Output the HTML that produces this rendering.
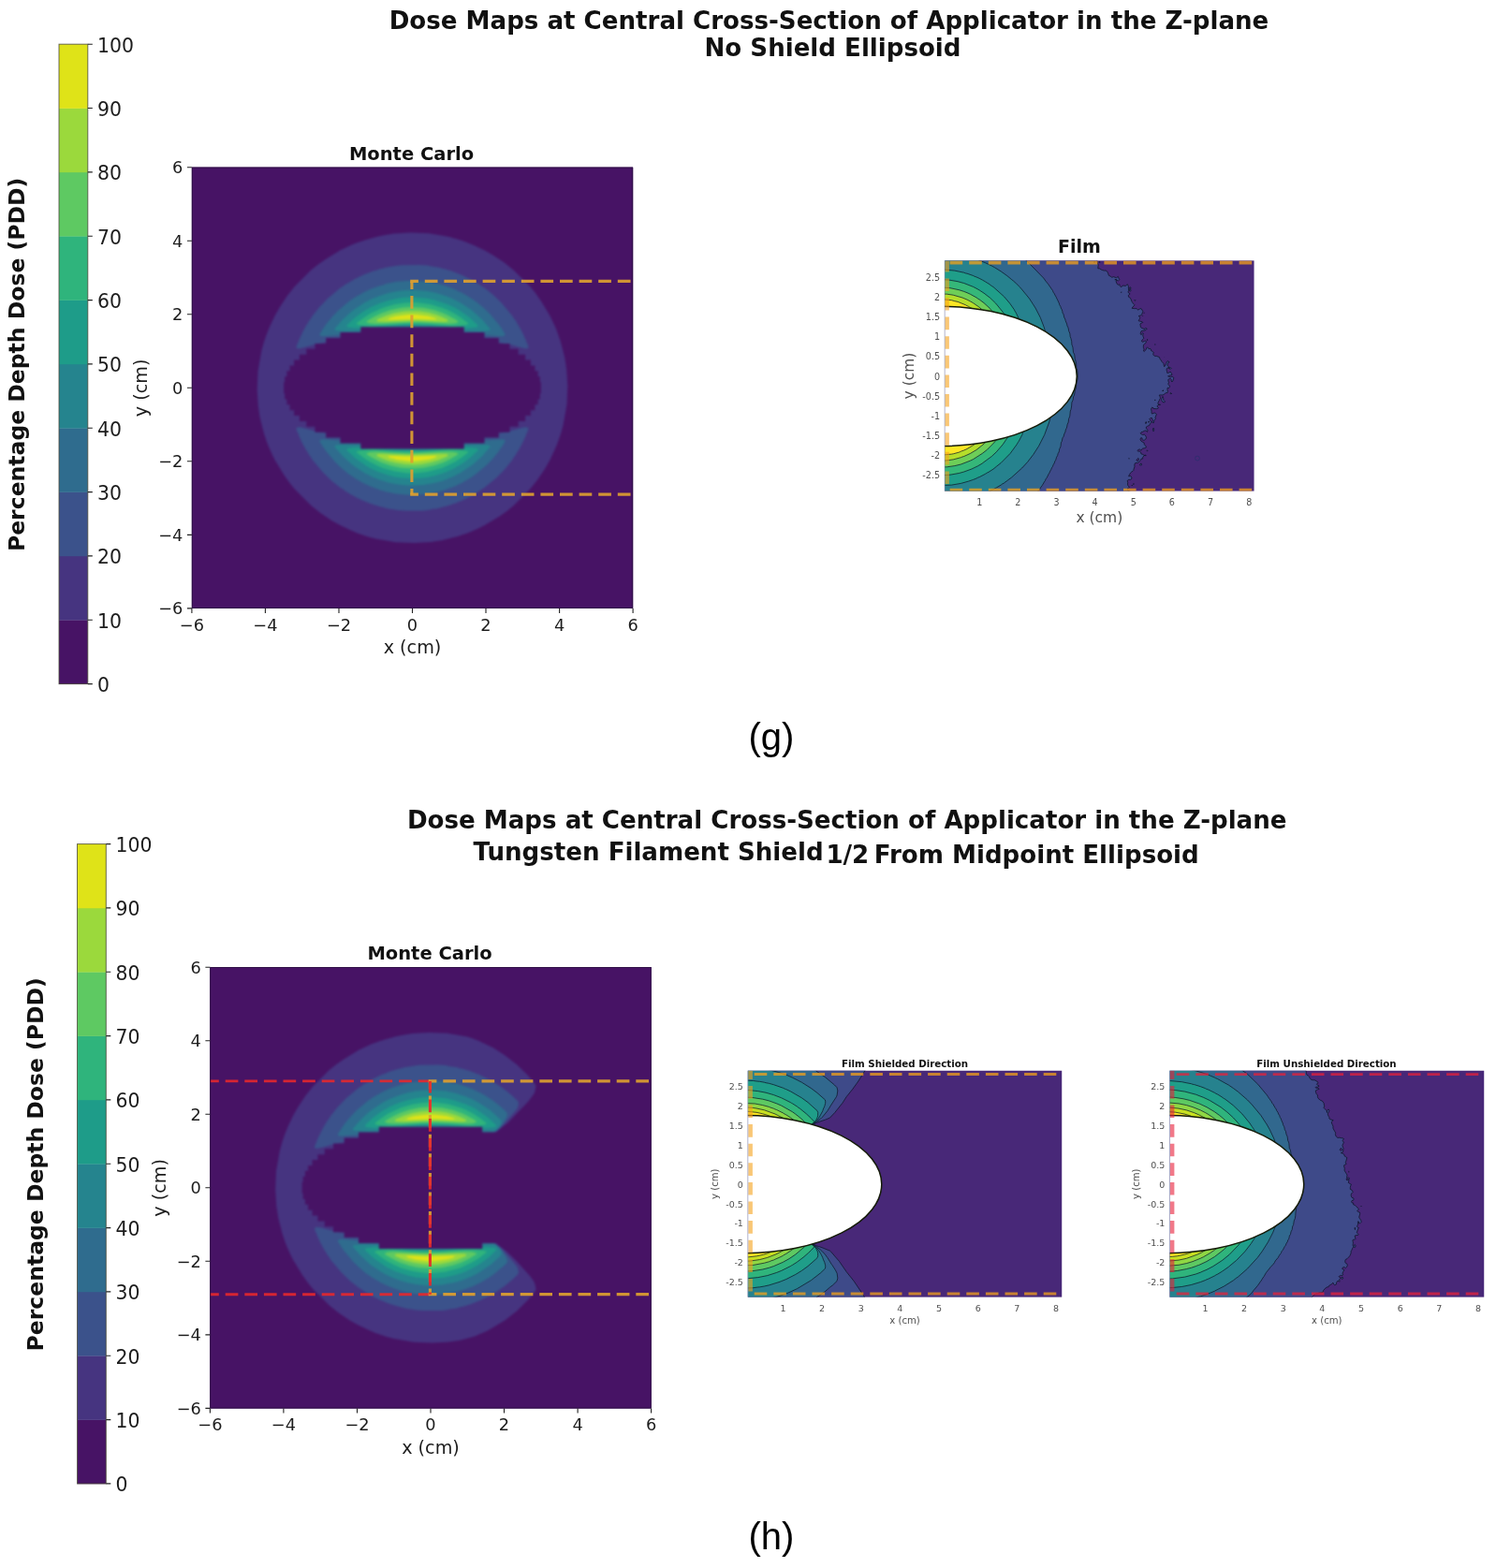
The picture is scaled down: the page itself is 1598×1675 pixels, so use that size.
<!DOCTYPE html><html><head><meta charset="utf-8"><title>Dose Maps</title><style>html,body{margin:0;padding:0;background:#fff;overflow:hidden}svg{display:block}</style></head><body><svg width="1598" height="1675" viewBox="0 0 1598 1675" font-family="'DejaVu Sans','Liberation Sans',sans-serif" fill="#1c1c1c">
<defs><filter id="blur" color-interpolation-filters="sRGB" x="-5%" y="-5%" width="110%" height="110%"><feGaussianBlur stdDeviation="1.0"/></filter><filter id="blur2" color-interpolation-filters="sRGB" x="-5%" y="-5%" width="110%" height="110%"><feGaussianBlur stdDeviation="0.45"/></filter></defs>
<rect width="1598" height="1675" fill="#fff"/>
<g font-weight="bold" font-size="26.1" text-anchor="middle" fill="#111"><text x="885.5" y="31.3">Dose Maps at Central Cross-Section of Applicator in the Z-plane</text><text x="889.5" y="60.3">No Shield Ellipsoid</text></g>
<rect x="63.00" y="662.26" width="30.80" height="68.64" fill="#471365"/>
<rect x="63.00" y="593.92" width="30.80" height="68.64" fill="#463480"/>
<rect x="63.00" y="525.58" width="30.80" height="68.64" fill="#3b528b"/>
<rect x="63.00" y="457.24" width="30.80" height="68.64" fill="#2f6c8e"/>
<rect x="63.00" y="388.90" width="30.80" height="68.64" fill="#25848e"/>
<rect x="63.00" y="320.56" width="30.80" height="68.64" fill="#1e9c89"/>
<rect x="63.00" y="252.22" width="30.80" height="68.64" fill="#2fb47c"/>
<rect x="63.00" y="183.88" width="30.80" height="68.64" fill="#5ec962"/>
<rect x="63.00" y="115.54" width="30.80" height="68.64" fill="#9bd93c"/>
<rect x="63.00" y="47.20" width="30.80" height="68.64" fill="#dfe318"/>
<rect x="63.00" y="47.20" width="30.80" height="683.40" fill="none" stroke="#4a4a3a" stroke-width="1" opacity="0.8"/>
<text x="104.0" y="738.9" font-size="20.4">0</text>
<text x="104.0" y="670.6" font-size="20.4">10</text>
<text x="104.0" y="602.2" font-size="20.4">20</text>
<text x="104.0" y="533.9" font-size="20.4">30</text>
<text x="104.0" y="465.5" font-size="20.4">40</text>
<text x="104.0" y="397.2" font-size="20.4">50</text>
<text x="104.0" y="328.9" font-size="20.4">60</text>
<text x="104.0" y="260.5" font-size="20.4">70</text>
<text x="104.0" y="192.2" font-size="20.4">80</text>
<text x="104.0" y="123.8" font-size="20.4">90</text>
<text x="104.0" y="55.5" font-size="20.4">100</text>
<path d="M93.8,730.6h5M93.8,662.3h5M93.8,593.9h5M93.8,525.6h5M93.8,457.2h5M93.8,388.9h5M93.8,320.6h5M93.8,252.2h5M93.8,183.9h5M93.8,115.5h5M93.8,47.2h5" stroke="#222" stroke-width="1.1" fill="none"/>
<text transform="translate(26.3,389.4) rotate(-90)" font-size="23.5" font-weight="bold" text-anchor="middle" fill="#111">Percentage Depth Dose (PDD)</text>
<clipPath id="cpa"><rect x="204.88" y="178.68" width="471.24" height="471.24"/></clipPath>
<rect x="204.88" y="178.68" width="471.24" height="471.24" fill="#471365"/>
<g clip-path="url(#cpa)"><g filter="url(#blur)">
<rect x="192.9" y="166.7" width="495.2" height="495.2" fill="#471365"/>
<path d="M422.6,579.2 442.5,580.1 460.1,579 471.9,577.2 477.8,575.8 489.6,572.7 499.4,569.4 504.2,567.5 513.1,563.4 515.1,562.3 517.1,561.5 519,560.3 533.3,551.7 541.5,545.9 548.8,540 566.4,522.3 574.2,512.5 582.1,500.7 587.8,490.7 588.5,488.9 592.3,481.1 595.6,473.2 597.7,467.3 599.6,461.4 601.7,453.6 605.5,432 606.3,412.3 605.2,394.7 603.4,382.9 602,377 598.9,365.2 595.6,355.4 593.7,350.6 589.6,341.7 588.5,339.7 587.7,337.7 586.5,335.8 577.9,321.5 572.1,313.3 566.2,306 548.5,288.4 538.7,280.6 526.9,272.7 516.9,267 515.1,266.3 507.3,262.5 499.4,259.2 493.5,257.1 487.6,255.2 479.8,253.1 458.2,249.3 438.5,248.5 420.9,249.6 409.1,251.4 403.2,252.8 391.4,255.9 381.6,259.2 376.8,261.1 367.9,265.2 365.9,266.3 363.9,267.1 362,268.3 347.7,276.9 339.5,282.7 332.2,288.6 314.6,306.3 306.8,316.1 298.9,327.9 293.2,337.9 292.5,339.7 288.7,347.5 285.4,355.4 283.3,361.3 281.4,367.2 279.3,375 275.5,396.6 274.7,416.3 275.8,433.9 277.6,445.7 279,451.6 282.1,463.4 285.4,473.2 287.3,478 291.4,486.9 292.5,488.9 293.3,490.9 294.5,492.8 303.1,507.1 308.9,515.3 314.8,522.6 332.5,540.2 342.3,548 354.1,555.9 364.1,561.6 365.9,562.3 373.7,566.1 381.6,569.4 387.5,571.5 393.4,573.4 401.2,575.5 422.6,579.2ZM546.5,450.2 545.6,449.6 548,441.8 550.6,428 551.4,418.2 551.3,408.4 549.7,394.7 548,386.8 545.6,379 546.5,378.4 548.5,378.5 560.8,386.8 570.1,395.1 572.6,398.6 574.7,402.5 576.2,406.4 577.1,410.4 577.4,414.3 577.1,418.2 575.5,424.1 572.1,430.8 569.7,433.9 560.3,442.1 558.2,443.8 548.5,450.1 546.5,450.2ZM332.5,450.1 320.2,441.8 310.9,433.5 308.4,430 306.3,426.1 304.8,422.2 303.9,418.2 303.6,414.3 303.9,410.4 305.5,404.5 308.9,397.8 311.3,394.7 320.7,386.5 322.8,384.8 332.5,378.5 334.5,378.4 335.4,379 333,386.8 330.4,400.6 329.6,410.4 329.7,420.2 331.3,433.9 333,441.8 335.4,449.6 334.5,450.2 332.5,450.1Z" fill="#463480" fill-rule="evenodd"/>
<path d="M419.3,543.9 424.8,545 432.6,545.6 452.3,545.4 458.2,544.7 462.1,543.8 466,543.4 470,542.5 471.9,541.8 475.8,541.1 479.8,539.7 481.7,539.3 484.8,538 487.6,537.2 489.7,536 491.6,535.5 497.4,532.9 501.4,530.9 506.1,528.2 507.3,527.7 509.2,526.2 511.2,525.3 515.2,522.3 517.1,521.3 530.8,509.9 539.7,500.7 547.5,490.9 548.5,488.9 551.5,485 552.4,483 553.9,481.1 556.3,476.4 557.1,475.2 561.7,465.4 562.3,463.4 563.4,461.4 564.2,458.6 564.7,457.5 564.2,456.9 562.2,456.2 558.3,456.8 544.6,460.6 517.1,466.4 515.1,466.5 512.8,467.3 510.5,467.3 517.1,457.3 523.2,443.8 526.1,433.9 527.3,428 528.3,416.3 527.8,404.5 526.1,394.7 523,384.1 518.1,373.1 512,363.2 510.5,361.3 512.8,361.3 515.1,362.1 519,362.5 540.6,367.4 544.6,368 558.3,371.8 562.2,372.4 564.2,371.7 564.7,371.1 563.4,367.2 562.2,365.1 561.7,363.2 559.1,357.4 557.1,353.4 554.4,348.7 553.9,347.5 552.4,345.6 551.5,343.6 548.5,339.6 547.5,337.7 536.1,324 526.9,315.1 517.1,307.3 515.1,306.3 511.2,303.3 509.2,302.4 507.3,300.9 502.6,298.5 501.4,297.7 491.6,293.1 489.6,292.5 487.6,291.4 484.8,290.6 481.7,289.3 477.8,288.3 475.8,287.5 471.5,286.7 470,286.1 466,285.2 461.7,284.7 456.2,283.6 448.4,283 428.7,283.2 422.8,283.9 418.9,284.8 415,285.2 411,286.1 409.1,286.8 405.2,287.5 401.2,288.9 399.3,289.3 396.2,290.6 393.4,291.4 391.3,292.6 389.4,293.1 383.6,295.7 379.6,297.7 374.9,300.4 373.7,300.9 371.8,302.4 369.8,303.3 365.8,306.3 363.9,307.3 350.2,318.7 341.3,327.9 333.5,337.7 332.5,339.7 329.5,343.6 328.6,345.6 327.1,347.5 324.7,352.2 323.9,353.4 319.3,363.2 318.7,365.2 317.6,367.2 316.8,370 316.3,371.1 316.8,371.7 318.8,372.4 322.7,371.8 336.4,368 363.9,362.2 365.9,362.1 368.2,361.3 370.5,361.3 363.9,371.3 357.8,384.8 354.9,394.7 353.7,400.6 352.7,412.3 353.2,424.1 354.9,433.9 358,444.5 362.9,455.5 369,465.4 370.5,467.3 368.2,467.3 365.9,466.5 362,466.1 340.4,461.2 336.4,460.6 322.7,456.8 318.8,456.2 316.8,456.9 316.3,457.5 317.6,461.4 318.8,463.5 319.3,465.4 321.9,471.2 323.9,475.2 326.6,479.9 327.1,481.1 328.6,483 329.5,485 332.5,489 333.5,490.9 344.9,504.6 354.1,513.5 363.9,521.3 365.9,522.3 369.8,525.3 371.8,526.2 373.7,527.7 378.4,530.1 379.6,530.9 389.4,535.5 391.4,536.1 393.4,537.2 396.2,538 399.3,539.3 403.2,540.3 405.2,541.1 409.5,541.9 411,542.5 415,543.4 419.3,543.9Z" fill="#3b528b" fill-rule="evenodd"/>
<path d="M430.9,528.2 436.6,528.7 446.4,528.6 458.2,527.5 468,525.5 471.9,524.2 475.8,523.2 477.9,522.3 481.7,521.1 485.7,519.5 493.5,515.8 495.6,514.4 497.4,513.6 503.3,510 505.3,508.5 507.3,507.3 519.8,496.8 525.5,490.9 532.1,483 534.7,479 537.4,475.2 539.8,471.2 538.7,469.8 536.7,469.3 505.3,471.6 497.4,472.5 493.5,472.6 491.6,473.2 487.6,473.6 483.7,473.6 481.7,473.8 479.8,474.3 479,475.2 468,475.5 464.1,476 462,477.1 420.9,477.3 418.9,477.1 416.9,476 413,475.5 402,475.2 401.2,474.3 399.3,473.8 395.3,473.5 391.4,473.5 389.4,473.2 387.5,472.6 377.7,471.9 346.3,469.3 344.3,469.3 342.3,469.8 341.2,471.2 344.8,477.1 346.3,479.1 347.5,481.1 358,493.6 363.9,499.3 371.8,505.9 375.8,508.5 379.6,511.2 383.6,513.6 385.5,514.5 387.5,515.8 393.4,518.4 395.3,519.5 397.7,520.3 401.2,521.8 403.2,522.3 405.2,523.2 413,525.5 417.3,526.2 422.8,527.5 430.9,528.2ZM341.2,357.4 342.3,358.8 344.3,359.3 375.7,357 383.6,356.1 387.5,356 389.4,355.4 393.4,355 397.3,355 399.3,354.8 401.2,354.3 402,353.4 413,353.1 416.9,352.6 419,351.5 460.1,351.3 462.1,351.5 464.1,352.6 468,353.1 479,353.4 479.8,354.3 481.7,354.8 485.7,355.1 489.6,355.1 491.6,355.4 493.5,356 503.3,356.7 534.7,359.3 536.7,359.3 538.7,358.8 539.8,357.4 536.2,351.5 534.7,349.5 533.5,347.5 523,335 517.1,329.3 509.2,322.7 505.2,320.1 501.4,317.4 497.4,315 495.5,314.1 493.5,312.8 487.6,310.2 485.7,309.1 483.3,308.3 479.8,306.8 477.8,306.3 475.8,305.4 468,303.1 463.7,302.4 458.2,301.1 444.4,299.9 434.6,300 422.8,301.1 413,303.1 409.1,304.4 405.2,305.4 403.1,306.3 399.3,307.5 395.3,309.1 387.5,312.8 385.4,314.2 383.6,315 377.7,318.6 375.7,320.1 373.7,321.3 361.2,331.8 355.5,337.7 348.9,345.6 346.3,349.6 343.6,353.4 341.2,357.4Z" fill="#2f6c8e" fill-rule="evenodd"/>
<path d="M434.8,518.4 440.5,518.6 452.3,518 466,515.5 473.9,513.2 483.7,509.3 491.6,505.3 505.3,496.1 515.3,486.9 523.8,477.1 523,475.9 520.7,475.2 507.3,474.7 487.6,475.7 466,478.4 440.5,479.6 422.8,479 387.5,475.2 369.8,474.7 360,475.2 358,475.9 357.2,477.1 365.9,487.1 376.6,496.8 389.4,505.3 397.3,509.3 403.2,511.8 415,515.5 424.8,517.5 434.8,518.4ZM360.3,353.4 373.7,353.9 393.4,352.9 415,350.2 440.5,349 458.2,349.6 493.5,353.4 511.2,353.9 521,353.4 523,352.7 523.8,351.5 515.1,341.5 504.4,331.8 491.6,323.3 483.7,319.3 477.8,316.8 466,313.1 456.2,311.1 444.4,310.1 432.6,310.3 424.8,311.1 415,313.1 407.1,315.4 397.3,319.3 389.4,323.3 375.7,332.5 365.7,341.7 357.2,351.5 358,352.7 360.3,353.4Z" fill="#25848e" fill-rule="evenodd"/>
<path d="M430.6,510.5 438.5,511.1 448.4,510.8 456.2,509.9 466,507.7 473.9,505.2 477.8,503.7 485.7,500 487.7,498.7 489.6,497.8 495.5,494 503.3,488 510.6,481.1 510,479.1 501.4,478.1 487.6,477.8 452.3,480.9 422.8,480.6 393.4,477.8 379.6,478.1 371,479.1 370.4,481.1 379.6,489.6 391.4,497.8 395.3,500 403.2,503.7 416.9,508.2 424.8,509.9 430.6,510.5ZM371,349.5 379.6,350.5 393.4,350.8 428.7,347.7 458.2,348 487.6,350.8 501.4,350.5 510,349.5 510.6,347.5 501.4,339 489.6,330.8 485.7,328.6 477.8,324.9 464.1,320.4 456.2,318.7 442.5,317.5 432.6,317.8 424.8,318.7 415,320.9 407.1,323.4 403.2,324.9 395.3,328.6 393.3,329.9 391.4,330.8 385.5,334.6 377.7,340.6 370.4,347.5 371,349.5Z" fill="#1e9c89" fill-rule="evenodd"/>
<path d="M428.6,504.6 436.6,505.4 446.4,505.3 456.2,504.1 471.9,499.9 485.7,493.5 493.5,488.4 500.4,483 499.4,482.1 497.4,481.4 485.7,480.2 479.8,480.3 448.4,482.6 418.9,481.9 399.3,480.2 395.3,480.2 383.6,481.4 381.6,482.1 380.6,483 389.4,489.8 395.3,493.5 403.2,497.5 409.1,499.9 420.9,503.3 428.6,504.6ZM386,347.5 395.3,348.4 401.2,348.3 432.6,346 462.1,346.7 481.7,348.4 485.7,348.4 497.4,347.2 499.4,346.5 500.4,345.6 491.6,338.8 485.7,335.1 477.8,331.1 471.9,328.7 460.1,325.3 446.4,323.3 440.5,323.1 430.7,323.7 420.9,325.3 409.1,328.7 395.3,335.1 387.5,340.2 380.6,345.6 381.6,346.5 383.6,347.2 386,347.5Z" fill="#2fb47c" fill-rule="evenodd"/>
<path d="M423.1,498.7 428.7,499.8 442.5,500.5 452.3,499.8 464.1,497.3 473.9,493.9 481.7,490.1 489.9,485 487.6,483.6 483.7,482.8 475.8,482.5 434.6,484.2 401.2,482.5 395.3,483.1 393.4,483.6 391.1,485 395.3,487.8 403.2,492.1 407.1,493.9 416.9,497.3 423.1,498.7ZM396,345.6 401.2,346.1 407.1,346 446.4,344.4 479.8,346.1 485.7,345.5 487.6,345 489.9,343.6 485.7,340.8 477.8,336.5 473.9,334.7 464.1,331.3 452.3,328.8 438.5,328.1 428.7,328.8 416.9,331.3 407.1,334.7 399.3,338.5 391.1,343.6 393.4,345 396,345.6Z" fill="#5ec962" fill-rule="evenodd"/>
<path d="M424.5,494.8 432.6,496.1 442.5,496.4 450.3,495.9 460.1,494.1 468,491.7 477.8,487.5 478.8,486.9 477.7,485 470,484.7 436.6,485.8 407.1,484.7 403.2,485.1 402.2,486.9 409.1,490.2 415,492.4 422.8,494.5 424.5,494.8ZM403.3,343.6 411,343.9 444.4,342.8 473.9,343.9 477.8,343.5 478.8,341.7 471.9,338.4 466,336.2 458.2,334.1 448.4,332.5 438.5,332.2 430.7,332.7 420.9,334.5 413,336.9 403.2,341.1 402.2,341.7 403.3,343.6Z" fill="#9bd93c" fill-rule="evenodd"/>
<path d="M423.2,490.9 436.6,492.7 444.4,492.7 458.2,490.8 464.8,488.9 466,487.6 468,487.1 470,486.9 461.8,486.9 434.6,487.6 420.9,487.1 413,487.1 415,487.6 416.2,488.9 420.9,490.1 423.2,490.9ZM410.9,341.7 419.2,341.7 446.4,341 460.1,341.5 468,341.5 466,341 464.8,339.7 460.1,338.5 457.8,337.7 444.4,335.9 436.6,335.9 422.8,337.8 416.2,339.7 415,341 413,341.5 410.9,341.7Z" fill="#dfe318" fill-rule="evenodd"/>
<path d="M385.3,472.9H495.7V479.4H385.3ZM363.5,467.0H517.5V473.5H363.5ZM348.2,461.1H532.8V467.6H348.2ZM336.5,455.2H544.5V461.7H336.5ZM327.3,449.3H553.7V455.8H327.3ZM319.9,443.5H561.1V449.9H319.9ZM314.1,437.6H566.9V444.1H314.1ZM309.6,431.7H571.4V438.2H309.6ZM306.4,425.8H574.6V432.3H306.4ZM304.2,419.9H576.8V426.4H304.2ZM303.2,414.0H577.8V420.5H303.2ZM303.2,408.1H577.8V414.6H303.2ZM304.2,402.2H576.8V408.7H304.2ZM306.4,396.3H574.6V402.8H306.4ZM309.6,390.4H571.4V396.9H309.6ZM314.1,384.5H566.9V391.0H314.1ZM319.9,378.7H561.1V385.1H319.9ZM327.3,372.8H553.7V379.3H327.3ZM336.5,366.9H544.5V373.4H336.5ZM348.2,361.0H532.8V367.5H348.2ZM363.5,355.1H517.5V361.6H363.5ZM385.3,349.2H495.7V355.7H385.3Z" fill="#471365"/>
</g>
<path d="M438.2,300.4H676.1M438.2,528.2H676.1" stroke="#dda030" stroke-width="3.3" stroke-dasharray="13.7 6.9" stroke-dashoffset="5" fill="none" opacity="0.92"/>
<path d="M439.9,300.4V528.2" stroke="#dda030" stroke-width="3.1" stroke-dasharray="13.7 6.9" stroke-dashoffset="5" fill="none" opacity="0.92"/>
</g>
<rect x="205.28" y="179.08" width="470.44" height="470.44" fill="none" stroke="#2a1040" stroke-width="0.8"/>
<text x="204.9" y="673.7" font-size="17.8" text-anchor="middle">−6</text>
<text x="195.4" y="656.4" font-size="17.8" text-anchor="end">−6</text>
<text x="283.4" y="673.7" font-size="17.8" text-anchor="middle">−4</text>
<text x="195.4" y="577.9" font-size="17.8" text-anchor="end">−4</text>
<text x="362.0" y="673.7" font-size="17.8" text-anchor="middle">−2</text>
<text x="195.4" y="499.3" font-size="17.8" text-anchor="end">−2</text>
<text x="440.5" y="673.7" font-size="17.8" text-anchor="middle">0</text>
<text x="195.4" y="420.8" font-size="17.8" text-anchor="end">0</text>
<text x="519.0" y="673.7" font-size="17.8" text-anchor="middle">2</text>
<text x="195.4" y="342.3" font-size="17.8" text-anchor="end">2</text>
<text x="597.6" y="673.7" font-size="17.8" text-anchor="middle">4</text>
<text x="195.4" y="263.7" font-size="17.8" text-anchor="end">4</text>
<text x="676.1" y="673.7" font-size="17.8" text-anchor="middle">6</text>
<text x="195.4" y="185.2" font-size="17.8" text-anchor="end">6</text>
<path d="M204.9,649.9v5M204.9,649.9h-5M283.4,649.9v5M204.9,571.4h-5M362.0,649.9v5M204.9,492.8h-5M440.5,649.9v5M204.9,414.3h-5M519.0,649.9v5M204.9,335.8h-5M597.6,649.9v5M204.9,257.2h-5M676.1,649.9v5M204.9,178.7h-5" stroke="#222" stroke-width="1.1" fill="none"/>
<text x="440.5" y="698.3" font-size="19.2" text-anchor="middle">x (cm)</text>
<text transform="translate(157.4,414.3) rotate(-90)" font-size="19.2" text-anchor="middle">y (cm)</text>
<text x="439.5" y="170.7" font-size="19.5" font-weight="bold" text-anchor="middle" fill="#111">Monte Carlo</text>
<clipPath id="cpb"><rect x="1009.12" y="278.38" width="330.43" height="246.19"/></clipPath>
<rect x="1009.12" y="278.38" width="330.43" height="246.19" fill="#482878"/>
<g clip-path="url(#cpb)"><g filter="url(#blur2)">
<path d="M1005,532.2 1203.7,532.2 1204.2,531.3 1207.5,531.4 1209.1,530.5 1207.9,528.8 1207.6,527.1 1207.8,525.4 1205.8,524.6 1204.5,523.7 1204.2,522 1206.5,520.3 1204.7,518.6 1204.5,517 1204.7,515.3 1204,513.6 1205.8,512.3 1207.5,512.5 1208.4,511.9 1209,510.2 1207.5,508.3 1205.8,508.9 1205.6,508.5 1207.6,505.1 1209.1,503.7 1210,503.4 1210.8,502.6 1210.9,501.7 1212,498.3 1211.8,496.7 1212.4,494.8 1214,494.4 1215.7,494.3 1217.3,492.9 1218.4,491.6 1219,490 1220.6,490.1 1220.8,488.2 1222.3,486.5 1224.3,486.5 1223.9,486.2 1222.3,486.4 1220.6,485.4 1218.9,484.8 1218.6,483.1 1217.3,482.2 1215.7,482.1 1214.9,481.4 1215.7,480.5 1217.3,479.9 1219,481.2 1219.8,479.7 1220.6,479.1 1223.9,478.3 1224.4,478 1223.9,476.3 1222.1,474.7 1222.2,473 1220.6,472.3 1219,471.3 1218,469.6 1218.4,467.9 1219,467.7 1220,467.9 1220.2,469.6 1220.6,470.2 1222.3,470.2 1223.9,469 1224.5,467.9 1224.1,466.2 1222.8,464.5 1222.3,464.2 1220.6,464.5 1219,463.6 1218,462.8 1219,461.7 1220.6,461.3 1222.3,460.3 1223.9,459.9 1225.6,461.3 1225.9,459.4 1224.4,457.7 1224.4,456 1225.6,455.3 1227.7,454.4 1228.4,452.7 1228.9,452.4 1230,451 1227.8,447.6 1228.9,446.5 1230.5,446.5 1231.5,449.3 1230.8,451 1232.1,451.9 1232.7,451 1232.7,449.3 1234.3,447.6 1234,445.9 1235.4,442.5 1233.8,441.1 1232.1,441.4 1230.5,442.1 1230,440.8 1230.1,439.1 1229.6,437.4 1230,435.7 1230.5,435.3 1232,435.7 1232.1,436.5 1235.4,436.7 1237.1,436.2 1237.4,435.7 1235.9,434 1237.1,432.5 1239.5,432.4 1238.7,432.3 1237.1,431.6 1236.7,430.7 1237.1,430.4 1237.6,429 1238.5,427.3 1238.7,426.5 1239.4,425.6 1239.2,423.9 1238.7,422.9 1238.1,422.2 1238.7,422 1242,422 1243.7,421.1 1245.3,419.6 1247,419.7 1247.4,418.8 1246.9,415.4 1247,414.3 1248.6,414.5 1249.3,413.7 1249.4,412.1 1248.6,411.1 1247.7,410.4 1248.5,408.7 1247.9,407 1247.9,405.3 1248.6,404.9 1250.3,404.4 1251.2,405.3 1251.1,407 1251.9,408 1252.8,407 1253.5,404.9 1253.7,403.6 1253.5,403.1 1251.9,402.3 1250.3,403 1248.6,402.5 1247.6,401.9 1248.6,401.4 1251.9,400.5 1251.9,400 1251.2,398.5 1250.3,397.2 1247,398.6 1246.8,398.5 1246.6,396.8 1246,395.1 1246.5,393.4 1247,392.8 1250.3,394.2 1251.1,393.4 1250.3,392.6 1248.6,393.1 1248.3,391.7 1246.8,390.1 1247.5,388.4 1248.6,386.9 1249.1,386.7 1247,385.7 1246.2,386.7 1245.8,388.4 1243.7,391.8 1243.1,390.1 1243,388.4 1241.3,386.7 1240.3,385 1239,383.3 1238.5,381.6 1235.4,380.4 1233.8,380.4 1232.7,379.9 1232.1,379.3 1231.7,378.2 1232.4,376.5 1230.5,375.1 1229.7,374.8 1229.4,373.1 1228.9,372.5 1227.2,372.8 1225.6,370.8 1225,371.4 1223.9,373.7 1222.3,375.5 1221.4,374.8 1222.1,373.1 1221.4,371.4 1221.3,369.8 1221.7,368.1 1223.9,366.4 1224.5,364.7 1223.9,364.2 1222.3,364.4 1222,364.7 1220.6,365.3 1219.5,364.7 1220,363 1220.6,362.6 1221.8,361.3 1221.1,359.6 1220.7,357.9 1221.4,356.2 1220.6,355.5 1219,357.7 1218.1,356.2 1219,353.8 1220.6,353.3 1223.9,352.6 1225.2,351.1 1223.9,350.6 1222.6,351.1 1222.3,351.9 1221.4,351.1 1219,350.1 1218.4,349.4 1217.9,346.1 1219,345.1 1220.8,344.4 1220.6,344.1 1219,343.4 1216.1,342.7 1217.3,340.7 1217.7,339.3 1217.3,338.5 1216.2,337.6 1219,336.7 1219.9,335.9 1220.1,334.2 1220.6,333.4 1220.8,332.5 1219,329.6 1217.3,330.1 1215.7,331.1 1215.1,330.8 1214,329.5 1212.4,329.7 1209.1,329.3 1209.1,329 1212,325.8 1210.3,324.1 1209.1,322.3 1207.5,318.4 1205.6,317.3 1205.2,315.6 1207.1,313.9 1204.9,312.2 1205.6,310.5 1205.3,305.5 1204.2,303.6 1202.5,305.4 1199.2,305 1197.6,306.9 1196.3,305.5 1195.9,303.8 1194.3,304.3 1193.6,303.8 1192.6,302.1 1192.2,300.4 1192.6,298.7 1194.3,300.2 1195.8,298.7 1194.3,295.4 1192.6,296.7 1189.4,295.7 1187.7,296.3 1186.1,295.1 1184.4,294.3 1183.6,291.9 1182.8,290.2 1181.1,289 1179.5,289.1 1177.3,288.5 1174.5,286.9 1172.8,286.8 1173.2,283.5 1171.8,280.1 1171.9,278.4 1171,276.7 1169.6,275.3 1168,276 1166.4,275 1166.3,273.3 1164.7,273.1 1163.8,271.6 1005,271.6 1005,532.2ZM1169.6,280.3 1168.2,280.1 1169.6,279.5 1170,280.1 1169.6,280.3ZM1191,298.8 1190.8,298.7 1191,298.5 1192.5,298.7 1191,298.8ZM1197.6,312.5 1197.3,312.2 1197.6,311.9 1198.2,312.2 1197.6,312.5ZM1205.8,490.1 1205.8,489.6 1206.3,489.9 1205.8,490.1ZM1214,491.9 1214,491.4 1215.7,489.4 1216.4,489.9 1216.3,491.6 1215.7,492.5 1214,491.9ZM1223.9,452.6 1223.6,451 1223.9,450.7 1224.9,451 1223.9,452.6ZM1227.2,451.4 1226.7,451 1227.2,449.9 1227.5,451 1227.2,451.4ZM1233.8,427.9 1233.6,427.3 1233.8,426.9 1234,427.3 1233.8,427.9ZM1242,418 1241.8,417.1 1242,416.9 1242.9,417.1 1242,418ZM1209,518.6 1209.1,518.9 1209.5,518.6 1209.1,518 1209,518.6ZM1210.2,517 1210.8,517.4 1211.5,517 1210.8,516.8 1210.2,517ZM1217.3,496.7 1219,497.2 1219.6,496.7 1219,494.9 1217.3,496.5 1217.3,496.7ZM1224.8,481.4 1225.6,481.8 1225.9,481.4 1225.6,481 1224.8,481.4ZM1231.4,459.4 1232.1,460.8 1232.7,459.4 1232.6,457.7 1232.1,457.1 1231.6,457.7 1231.4,459.4ZM1241.7,429 1242,429.6 1243.7,429.7 1244.6,429 1242.8,427.3 1242.7,425.6 1242,423.5 1242,423.9 1241,425.6 1240.5,427.3 1241.7,429ZM1250.1,420.5 1251.6,420.5 1250.3,419.6 1250.1,420.5ZM1243.6,381.6 1243.7,381.5 1243.6,381.6ZM1233.6,368.1 1233.8,368.4 1234.1,368.1 1233.8,367.6 1233.6,368.1ZM1225,363 1225.6,363.7 1225.9,363 1225.6,362.4 1225,363ZM1220.4,337.6 1220.6,337.8 1220.6,337.3 1220.4,337.6ZM1221.8,334.2 1222.3,334.2 1221.8,334.2ZM1211.8,320.7 1212.4,321.4 1212.9,320.7 1212.4,320.1 1211.8,320.7ZM1206.3,310.5 1207.5,311.2 1207.9,310.5 1207.6,308.8 1208,307.1 1207.5,306.9 1206.7,307.1 1206.8,308.8 1206.3,310.5ZM1174.1,280.1 1174.5,280.7 1175.1,280.1 1174.5,279.2 1174.1,280.1ZM1166.8,271.6 1168,272.7 1168.9,271.6 1166.8,271.6ZM1170.9,271.6 1171.2,271.8 1171.4,271.6 1170.9,271.6Z" fill="#3e4a89" fill-rule="evenodd"/>
<path d="M1005,532.2 1100.1,532.2 1108.7,524.9 1111,522 1112,520.2 1113.3,518.6 1115.3,515 1116.4,513.6 1117,511.9 1118.3,510.2 1120.2,506.3 1121,505.1 1121.9,503 1122.7,501.7 1123.5,499.7 1124.5,498.3 1125.2,496.3 1126.1,495 1126.8,492.8 1127.6,491.6 1128.7,488.2 1129.7,486.5 1130.1,484.6 1131,483.1 1131.5,481.4 1131.7,479.6 1132.6,478 1133.1,476.3 1133.4,472.9 1134.3,471.3 1135,467.8 1136.2,466.2 1136.7,463.9 1138,461.1 1138.3,459.1 1139.1,457.7 1139.7,456 1140,453.8 1141.2,451 1141.6,447.3 1142.3,445.9 1142.8,444.2 1143.3,439 1144,437.4 1144.6,434 1144.9,429.9 1146.1,427.3 1146.6,423.8 1147.5,422.2 1148.1,418.8 1148.2,417 1149.1,415.4 1149.7,412.1 1149.8,408.6 1150.6,407 1151.2,403.6 1151.1,398.5 1150.6,395.1 1149.8,393.4 1149.6,388.4 1148.8,385 1148.2,383.3 1147.9,379.9 1147.5,378.2 1146.5,376.5 1146,371.4 1145.6,369.8 1144.9,368.1 1144.7,364.7 1143.9,361.3 1143.2,359.6 1142.8,356.2 1141.6,353.4 1141.3,351.1 1140.7,349.4 1139.9,347.8 1139.6,346.1 1138.2,342.7 1137.8,341 1136.7,339 1136.1,335.9 1135,334.1 1134.8,332.5 1134.3,330.8 1133.3,329.1 1132.9,327.5 1131.7,325.5 1131.4,324.1 1129,319 1128.4,318.1 1128.2,317.3 1126.8,315 1126.4,313.9 1125.1,312.2 1124.5,310.5 1119.9,303.8 1116.9,300.1 1114.7,297 1097.2,279.1 1093.9,276.7 1090.6,273.8 1087.3,271.6 1005,271.6 1005,532.2Z" fill="#31688e" fill-rule="evenodd"/>
<path d="M1005,532.2 1036.3,532.2 1039.6,531.5 1046.2,529.3 1049.4,528.1 1051.4,527.1 1054.4,526 1057.7,524.5 1064.3,521 1069.2,518.1 1070.8,516.9 1072.5,516 1080.7,509.9 1097.8,493.3 1104.2,484.8 1109.7,476.3 1115.7,464.5 1121.9,446.9 1124,437.4 1125,430.7 1125.7,413.7 1124.8,403.6 1119.1,401.9 1120.7,388.4 1120.1,371.4 1116.3,352.8 1111.3,339.3 1103.8,325.3 1097,315.6 1089.8,307.1 1082.4,300 1069.2,289.9 1062.6,285.8 1059.3,284 1052.7,280.8 1039.6,275.8 1033,274 1021.5,271.8 1005,271.6 1005,532.2Z" fill="#26828e" fill-rule="evenodd"/>
<path d="M1005,517 1005,518.6 1016.5,518.1 1028,516 1039.6,512.4 1042.9,511.1 1044.5,510.2 1046.2,509.6 1052.7,506.2 1061,501.1 1064.4,498.3 1072.5,491.4 1079.1,484.4 1086.2,474.7 1088.3,471.3 1091.8,464.5 1092.4,462.8 1093.3,461.1 1095.2,456 1095.6,454.4 1096.3,452.7 1098.3,444.2 1099.9,429 1099.8,412.1 1099.4,408.7 1098.6,403.6 1097.2,402.7 1095.4,401.9 1096.8,393.4 1097.2,381.6 1096.5,369.8 1094.6,359.6 1093.9,357.6 1093.4,354.5 1092.2,351.1 1091.4,347.8 1090.6,346.1 1087.9,339.3 1083.4,330.8 1078.7,324.1 1069.2,313.5 1061,306.5 1059.3,305.5 1056,303 1049.4,299.1 1046.2,297.4 1041.1,295.3 1039.6,294.5 1033,292.2 1031.3,291.9 1029.7,291.2 1016.5,288.7 1005,287.9 1005,517Z" fill="#1f9e89" fill-rule="evenodd"/>
<path d="M1005,506.8 1005,507.8 1014.9,507.2 1024.8,505.4 1034.6,502.3 1041.2,499.5 1049.3,495 1059.3,487.5 1065.9,481.1 1075,469.6 1078.1,464.5 1083,454.4 1086.4,444.2 1088.3,435.7 1089.5,422.2 1088.4,407 1087.8,403.6 1084.9,401.9 1086.7,390.1 1087,383.3 1086.2,371.4 1084.7,363 1081.6,352.8 1075.2,339.3 1071.9,334.2 1063.7,324.1 1057.7,318.3 1046.2,310 1039.6,306.4 1029.7,302.5 1016.5,299.4 1005,298.7 1005,506.8Z" fill="#35b779" fill-rule="evenodd"/>
<path d="M1005,498.3 1005,499.1 1016.5,498.2 1026.4,496 1036.3,492.2 1044.5,487.7 1054.4,480.4 1063.1,471.3 1067,466.2 1073.7,454.4 1076.5,447.6 1079.7,435.7 1080.9,425.6 1080.7,413.7 1079.5,405.3 1079.1,403.6 1076.4,401.9 1078.4,390.1 1078.7,379.9 1077.9,371.4 1076.6,364.7 1073.4,354.5 1072,351.1 1067.5,342.7 1057.7,329.8 1051.1,323.7 1046.2,320 1036.3,314.2 1029.7,311.4 1018.2,308.3 1008.3,307.2 1005,307.1 1005,498.3Z" fill="#6ece58" fill-rule="evenodd"/>
<path d="M1005,491.6 1005,492.1 1009.9,492 1018.2,490.9 1026.4,488.7 1033,486.1 1042.9,480.6 1052.3,473 1058.5,466.2 1063.3,459.4 1067,452.7 1068.6,449.3 1070.5,444.2 1073.4,432.4 1074.2,423.9 1073.9,413.7 1072.2,403.6 1069.5,401.9 1071.8,390.1 1072.1,379.9 1070.6,368.1 1069.8,364.7 1068.2,359.6 1063.7,349.4 1057.1,339.3 1050.9,332.5 1046.2,328.3 1039.6,323.7 1033,320.1 1028,318 1018.2,315.2 1011.6,314.2 1005,313.9 1005,491.6Z" fill="#b5de2b" fill-rule="evenodd"/>
<path d="M1005,484.8 1005,486.2 1018.3,484.8 1024.8,483 1026.4,482.2 1029.7,481 1033,479.5 1041.2,474.6 1051.1,465.8 1057.7,457.4 1062.9,447.6 1063.5,445.9 1064.3,444.2 1066,439.1 1067.6,432.4 1068.4,420.5 1067.7,410.4 1066.2,403.6 1063.5,401.9 1064.3,399.9 1066.1,390.1 1066.4,381.6 1065.8,373.1 1064.3,365.9 1063.2,363 1060.8,356.2 1059.8,354.5 1059.1,352.8 1056,347.6 1051.1,340.9 1046.2,335.8 1039.6,330.6 1037.4,329.1 1036.3,328.6 1034.6,327.4 1031.3,325.7 1023.1,322.4 1016.4,320.7 1006.6,319.8 1005,319.8 1005,484.8Z" fill="#fde725" fill-rule="evenodd"/>
<path d="M1005,476.3 1005,476.6 1013.2,476 1021.5,474 1026.4,472.1 1036.5,466.2 1042.9,460.7 1046.2,457.1 1051.6,449.3 1055.6,440.8 1057.7,433.9 1059,425.6 1059.2,420.5 1058.5,412.1 1056.5,403.6 1054,401.9 1056.4,393.4 1057.3,386.7 1057.2,378.2 1055.4,368.1 1052.2,359.6 1047.3,351.1 1042.9,345.7 1039.6,342.4 1033,337.3 1026.4,333.7 1021.5,331.7 1011.6,329.4 1005,329.1 1005,476.3Z" fill="#fde725" fill-rule="evenodd"/>
<path d="M1203.7,532.2 1204.2,531.3 1207.5,531.4 1209.1,530.5 1207.9,528.8 1207.6,527.1 1207.8,525.4 1205.8,524.6 1204.5,523.7 1204.2,522 1206.5,520.3 1204.7,518.6 1204.5,517 1204.7,515.3 1204.2,513.8 1204,513.6 1205.8,512.3 1207.5,512.5 1208.4,511.9 1209,510.2 1207.5,508.3 1205.8,508.9 1205.6,508.5 1207.6,505.1 1209.1,503.7 1210,503.4 1210.8,502.6 1210.9,501.7 1212,498.3 1211.8,496.7 1212.4,494.8 1214,494.4 1215.7,494.3 1217.3,492.9 1218.4,491.6 1219,490 1220.6,490.1 1220.8,488.2 1222.3,486.5 1223.9,486.6 1224.3,486.5 1223.9,486.2 1222.3,486.4 1220.6,485.4 1218.9,484.8 1218.6,483.1 1217.3,482.2 1215.7,482.1 1214.9,481.4 1215.7,480.5 1217.3,479.9 1219,481.2 1219.8,479.7 1220.6,479.1 1222.3,478.8 1223.9,478.3 1224.4,478 1223.9,476.3 1222.1,474.7 1222.2,473 1220.6,472.3 1219,471.3 1218,469.6 1218.4,467.9 1219,467.7 1220,467.9 1220.2,469.6 1220.6,470.2 1222.3,470.2 1223.9,469 1224.5,467.9 1224.1,466.2 1222.8,464.5 1222.3,464.2 1220.6,464.5 1219,463.6 1218,462.8 1219,461.7 1220.6,461.3 1222.3,460.3 1223.9,459.9 1225.6,461.3 1225.9,459.4 1224.4,457.7 1224.4,456 1225.6,455.3 1227.7,454.4 1228.4,452.7 1228.9,452.4 1230,451 1228.9,449.3 1228.9,449.1 1227.8,447.6 1228.9,446.5 1230.5,446.5 1231.5,449.3 1230.8,451 1232.1,451.9 1232.7,451 1232.7,449.3 1234.3,447.6 1234,445.9 1235.4,442.5 1233.8,441.1 1232.1,441.4 1230.5,442.1 1230,440.8 1230.1,439.1 1229.6,437.4 1230,435.7 1230.5,435.3 1232,435.7 1232.1,436.5 1235.4,436.7 1237.1,436.2 1237.4,435.7 1235.9,434 1237.1,432.5 1239.5,432.4 1238.7,432.3 1237.1,431.6 1236.7,430.7 1237.1,430.4 1237.6,429 1238.5,427.3 1238.7,426.5 1239.4,425.6 1239.2,423.9 1238.7,422.9 1238.1,422.2 1238.7,422 1240.4,421.9 1242,422 1243.7,421.1 1245.3,419.6 1247,419.7 1247.4,418.8 1246.9,415.4 1247,414.3 1248.6,414.5 1249.3,413.7 1249.4,412.1 1248.6,411.1 1247.7,410.4 1248.5,408.7 1247.9,407 1247.9,405.3 1248.6,404.9 1250.3,404.4 1251.2,405.3 1251.1,407 1251.9,408 1252.8,407 1253.5,404.9 1253.7,403.6 1253.5,403.1 1251.9,402.3 1250.3,403 1248.6,402.5 1247.6,401.9 1248.6,401.4 1251.9,400.5 1251.9,400 1251.2,398.5 1250.3,397.2 1247.5,398.5 1247,398.6 1246.8,398.5 1246.6,396.8 1246,395.1 1246.5,393.4 1247,392.8 1250.3,394.2 1251.1,393.4 1250.3,392.6 1248.6,393.1 1248.3,391.7 1246.8,390.1 1247,389.9 1247.5,388.4 1248.6,386.9 1249.1,386.7 1247,385.7 1246.2,386.7 1245.8,388.4 1243.7,391.8 1243.1,390.1 1243,388.4 1241.3,386.7 1240.3,385 1239,383.3 1238.5,381.6 1235.4,380.4 1233.8,380.4 1232.7,379.9 1232.1,379.3 1231.7,378.2 1232.4,376.5 1230.5,375.1 1229.7,374.8 1229.4,373.1 1228.9,372.5 1227.2,372.8 1225.6,370.8 1225,371.4 1224.3,373.1 1222.3,375.5 1221.4,374.8 1222.1,373.1 1221.4,371.4 1221.3,369.8 1221.7,368.1 1222.3,367.5 1223.9,366.4 1224.5,364.7 1223.9,364.2 1222.3,364.4 1222,364.7 1220.6,365.3 1219.5,364.7 1220,363 1220.6,362.6 1221.8,361.3 1221.1,359.6 1220.7,357.9 1221.4,356.2 1220.6,355.5 1219,357.7 1218.1,356.2 1219,353.8 1220.6,353.3 1222.3,353.1 1223.9,352.6 1225.2,351.1 1223.9,350.6 1222.6,351.1 1222.3,351.9 1221.4,351.1 1219,350.1 1218.4,349.4 1217.9,346.1 1219,345.1 1220.6,344.6 1220.8,344.4 1220.6,344.1 1219,343.4 1217.3,343.1 1216.1,342.7 1217.3,340.7 1217.7,339.3 1217.3,338.5 1216.2,337.6 1219,336.7 1219.9,335.9 1220.1,334.2 1220.6,333.4 1220.8,332.5 1219,329.6 1217.3,330.1 1215.7,331.1 1215.1,330.8 1214,329.5 1212.4,329.7 1209.1,329.3 1209.1,329 1212,325.8 1210.3,324.1 1209.1,322.3 1207.5,318.4 1205.6,317.3 1205.2,315.6 1207.1,313.9 1204.9,312.2 1205.6,310.5 1205.3,305.5 1204.2,303.6 1202.5,305.4 1199.2,305 1197.6,306.9 1196.3,305.5 1195.9,303.8 1194.3,304.3 1193.6,303.8 1192.6,302.1 1192.2,300.4 1192.6,298.7 1194.3,300.2 1195.8,298.7 1194.9,297 1194.3,295.4 1192.6,296.7 1189.4,295.7 1187.7,296.3 1186.1,295.1 1184.4,294.3 1183.6,291.9 1182.8,290.2 1181.1,289 1179.5,289.1 1177.3,288.5 1176.2,288 1174.5,286.9 1172.8,286.8 1172.9,285.1 1173.2,283.5 1172.9,282.3 1171.8,280.1 1171.9,278.4 1171,276.7 1169.6,275.3 1168,276 1166.4,275 1166.3,273.3 1164.7,273.1 1163.8,271.6M1209,518.6 1209.1,518.9 1209.5,518.6 1209.1,518 1209,518.6M1210.2,517 1210.8,517.4 1211.5,517 1210.8,516.8 1210.2,517M1217.3,496.7 1219,497.2 1219.6,496.7 1219,494.9 1217.3,496.5 1217.3,496.7M1214,491.9 1214,491.4 1215.7,489.4 1216.4,489.9 1216.3,491.6 1215.7,492.5 1214,491.9M1205.8,490.1 1205.8,489.6 1206.3,489.9 1205.8,490.1M1224.8,481.4 1225.6,481.8 1225.9,481.4 1225.6,481 1224.8,481.4M1231.4,459.4 1232.1,460.8 1232.7,459.4 1232.6,457.7 1232.1,457.1 1231.6,457.7 1231.4,459.4M1223.9,452.6 1223.6,451 1223.9,450.7 1224.9,451 1223.9,452.6M1227.2,451.4 1226.7,451 1227.2,449.9 1227.5,451 1227.2,451.4M1241.7,429 1242,429.6 1243.7,429.7 1244.6,429 1243.7,428.3 1242.8,427.3 1242.7,425.6 1242,423.5 1242,423.9 1241,425.6 1240.5,427.3 1241.7,429M1233.8,427.9 1233.6,427.3 1233.8,426.9 1234,427.3 1233.8,427.9M1250.1,420.5 1250.3,420.6 1251.6,420.5 1250.3,419.6 1250.1,420.5M1242,418 1241.8,417.1 1242,416.9 1242.9,417.1 1242,418M1243.6,381.6 1243.7,381.5 1243.6,381.6M1233.6,368.1 1233.8,368.4 1234.1,368.1 1233.8,367.6 1233.6,368.1M1225,363 1225.6,363.7 1225.9,363 1225.6,362.4 1225,363M1220.4,337.6 1220.6,337.8 1220.7,337.6 1220.6,337.3 1220.4,337.6M1221.8,334.2 1222.3,334.3 1222.4,334.2 1221.8,334.2M1211.8,320.7 1212.4,321.4 1212.9,320.7 1212.4,320.1 1211.8,320.7M1197.6,312.5 1197.3,312.2 1197.6,311.9 1198.2,312.2 1197.6,312.5M1206.3,310.5 1207.5,311.2 1207.9,310.5 1207.6,308.8 1208,307.1 1207.5,306.9 1206.7,307.1 1206.8,308.8 1206.3,310.5M1191,298.8 1190.8,298.7 1191,298.5 1192.5,298.7 1191,298.8M1169.6,280.3 1168.2,280.1 1169.6,279.5 1170,280.1 1169.6,280.3M1174.1,280.1 1174.5,280.7 1175.1,280.1 1174.5,279.2 1174.1,280.1M1166.8,271.6 1168,272.7 1168.9,271.6M1170.9,271.6 1171.2,271.8 1171.4,271.6M1100.1,532.2 1107.1,526.4 1109.8,523.7 1111,522 1112,520.2 1113.3,518.6 1113.6,517.9 1114.3,517 1115.3,515 1116.4,513.6 1117,511.9 1118.3,510.2 1120.2,506.3 1121,505.1 1121.9,503 1122.7,501.7 1123.5,499.7 1124.5,498.3 1125.2,496.3 1126.1,495 1126.8,492.8 1127.6,491.6 1128.2,489.9 1128.4,488.8 1129.7,486.5 1130.1,484.6 1131,483.1 1131.5,481.4 1131.7,479.6 1132.6,478 1133.1,476.3 1133.4,472.9 1134.3,471.3 1135,467.8 1136.2,466.2 1136.7,463.9 1138,461.1 1138.3,459.1 1139.1,457.7 1139.7,456 1140,453.8 1141.2,451 1141.6,447.3 1142.3,445.9 1142.8,444.2 1143.3,439 1144,437.4 1144.6,434 1144.9,429.9 1146.1,427.3 1146.6,423.8 1147.5,422.2 1148.1,418.8 1148.2,417 1149.1,415.4 1149.7,412.1 1149.8,408.6 1150.6,407 1151.2,403.6 1151.1,398.5 1150.6,395.1 1149.8,393.4 1149.6,388.4 1148.8,385 1148.2,383.3 1147.9,379.9 1147.5,378.2 1146.5,376.5 1146,371.4 1145.6,369.8 1144.9,368.1 1144.7,364.7 1143.9,361.3 1143.2,359.6 1142.8,356.2 1141.6,353.4 1141.3,351.1 1140.7,349.4 1139.9,347.8 1139.6,346.1 1138.2,342.7 1137.8,341 1136.7,339 1136.1,335.9 1135,334.1 1134.8,332.5 1134.3,330.8 1133.3,329.1 1132.9,327.5 1131.7,325.5 1131.4,324.1 1129,319 1128.4,318.1 1128.2,317.3 1126.8,315 1126.4,313.9 1125.1,312.2 1124.5,310.5 1119.9,303.8 1116.9,300.1 1114.7,297 1097.2,279.1 1093.9,276.7 1090.6,273.8 1087.3,271.6M1036.3,532.2 1039.6,531.5 1042.9,530.3 1046.2,529.3 1049.4,528.1 1051.4,527.1 1054.4,526 1057.7,524.5 1058.9,523.7 1061,522.8 1062.6,521.8 1064.3,521 1069.2,518.1 1070.8,516.9 1072.5,516 1075.8,513.5 1080.7,509.9 1091.7,500 1097.8,493.3 1103.8,485.5 1109.7,476.3 1115.7,464.5 1120.7,451 1122.6,444.2 1124,437.4 1125,430.7 1125.7,413.7 1124.8,403.6 1119.1,401.9 1120.5,391.7 1120.8,381.6 1119.9,369.8 1117.2,356.2 1115.2,349.4 1111.3,339.3 1106.1,329.1 1099.6,319 1089.8,307.1 1085.7,303 1082.4,300 1080.7,298.7 1075.8,294.6 1069.2,289.9 1062.6,285.8 1059.3,284 1052.7,280.8 1044.5,277.5 1041.2,276.5 1039.6,275.8 1033,274 1023.1,272 1019.2,271.6M1005,518.6 1016.5,518.1 1026.4,516.4 1034.6,514.1 1039.6,512.4 1042.9,511.1 1044.5,510.2 1046.2,509.6 1052.7,506.2 1054.4,505.1 1056,504.3 1061,501.1 1064.4,498.3 1069.2,494.5 1079.1,484.4 1086.2,474.7 1087.3,472.7 1088.3,471.3 1091.8,464.5 1092.4,462.8 1093.3,461.1 1093.9,459.2 1095.2,456 1095.6,454.4 1096.3,452.7 1098.3,444.2 1099.9,429 1100.1,418.8 1099.4,408.7 1098.6,403.6 1097.2,402.7 1095.4,401.9 1096.8,393.4 1097.2,381.6 1097,374.8 1095.9,366.4 1094.6,359.6 1093.9,357.6 1093.4,354.5 1092.2,351.1 1091.9,349.4 1091.4,347.8 1090.6,346.1 1089.4,342.7 1085.3,334.2 1084,332.1 1083.4,330.8 1078.7,324.1 1072.5,316.8 1061,306.5 1059.3,305.5 1056,303 1054.3,302.1 1052.7,301 1049.4,299.1 1046.2,297.4 1042.9,295.9 1041.1,295.3 1039.6,294.5 1033,292.2 1031.3,291.9 1029.7,291.2 1024.8,290.2 1019.8,289.1 1008.3,288 1005,287.9M1005,507.8 1014.9,507.2 1024.8,505.4 1029.7,504 1037.9,501 1044.5,497.8 1049.3,495 1049.4,494.8 1059.3,487.5 1064.3,482.8 1071.3,474.7 1078.1,464.5 1081.5,457.7 1083,454.4 1086.4,444.2 1088.3,435.7 1089.5,422.2 1089.3,415.4 1087.8,403.6 1084.9,401.9 1086.7,390.1 1087,383.3 1086.2,371.4 1084.7,363 1081.6,352.8 1075.2,339.3 1071.9,334.2 1063.7,324.1 1057.7,318.3 1051.1,313.2 1046.2,310 1042.9,308.1 1039.6,306.4 1029.7,302.5 1028,302.1 1023.1,300.7 1013.2,299 1005,298.7M1005,499.1 1011.6,498.8 1019.8,497.6 1026.4,496 1036.3,492.2 1039.6,490.6 1049.4,484.3 1054.4,480.4 1061.7,473 1064.5,469.6 1067,466.2 1072.5,456.9 1075.2,451 1078.1,442.5 1080,434 1080.9,425.6 1080.7,413.7 1079.5,405.3 1079.1,403.6 1076.4,401.9 1078.4,390.1 1078.7,379.9 1077.9,371.4 1076.6,364.7 1074.6,357.9 1073.4,354.5 1072,351.1 1068.5,344.4 1064.1,337.6 1057,329.1 1051.1,323.7 1046.2,320 1044.5,319 1042.9,317.8 1036.3,314.2 1033,312.7 1029.7,311.4 1024.8,309.8 1014.9,307.7 1008.3,307.2 1005,307.1M1005,492.1 1009.9,492 1018.2,490.9 1026.4,488.7 1028,488 1029.7,487.5 1036.3,484.5 1042.9,480.6 1051.1,474.1 1058.5,466.2 1063.3,459.4 1067,452.7 1068.6,449.3 1070.5,444.2 1073.4,432.4 1074.1,425.6 1074.2,418.8 1073.5,410.4 1072.2,403.6 1069.5,401.9 1071.6,391.7 1072.1,385 1071.9,376.5 1070.6,368.1 1069.8,364.7 1068.2,359.6 1064.3,350.5 1060.7,344.4 1057.1,339.3 1054.2,335.9 1050.9,332.5 1046.2,328.3 1039.6,323.7 1036.3,321.8 1033,320.1 1028,318 1018.2,315.2 1011.6,314.2 1005,313.9M1005,486.2 1016.5,485.1 1018.3,484.8 1024.8,483 1026.4,482.2 1029.7,481 1033,479.5 1041.2,474.6 1049.1,467.9 1054.4,461.9 1057.7,457.4 1058.4,456 1059.5,454.4 1062.9,447.6 1063.5,445.9 1064.3,444.2 1066,439.1 1067.6,432.4 1068.3,423.9 1068.4,420.5 1067.7,410.4 1066.2,403.6 1063.5,401.9 1064.3,399.9 1066.1,390.1 1066.4,381.6 1065.8,373.1 1064.3,365.9 1063.2,363 1062.6,360.8 1060.8,356.2 1059.8,354.5 1059.1,352.8 1056,347.6 1052.5,342.7 1051.1,340.9 1046.2,335.8 1039.6,330.6 1037.4,329.1 1036.3,328.6 1034.6,327.4 1033,326.7 1031.3,325.7 1023.1,322.4 1019.8,321.7 1016.4,320.7 1006.6,319.8 1005,319.8M1005,476.6 1013.2,476 1021.5,474 1026.4,472.1 1034.1,467.9 1039.6,463.8 1044.5,459 1048.3,454.4 1051.6,449.3 1054.4,443.8 1056.2,439.1 1058,432.4 1059,425.6 1059.2,420.5 1058.5,412.1 1056.5,403.6 1054,401.9 1056.4,393.4 1057.3,386.7 1057.4,381.6 1056.8,374.8 1055.4,368.1 1052.2,359.6 1048.5,352.8 1046.1,349.4 1039.6,342.4 1035.8,339.3 1033,337.3 1026.4,333.7 1021.5,331.7 1016.5,330.3 1011.6,329.4 1005,329" fill="none" stroke="#0b1526" stroke-width="0.85" stroke-opacity="0.85"/>
<circle cx="1279" cy="489.6" r="2.4" fill="none" stroke="#2c2f6e" stroke-width="0.8"/>
<ellipse cx="1005.00" cy="401.90" rx="145.26" ry="74.66" fill="#fff" stroke="#141a08" stroke-width="1.5"/>
</g>
<path d="M1337.2,280.6H1009.1M1337.2,523.8H1009.1" fill="none" stroke="#f5a21a" stroke-width="4.0" stroke-dasharray="13.6 7" stroke-opacity="0.74"/>
<path d="M1011.6,278.4V524.6" fill="none" stroke="#f5a21a" stroke-width="4.6" stroke-dasharray="13.6 7" stroke-dashoffset="1.6" stroke-opacity="0.6"/>
</g>
<path d="M1009.1,278.4V524.6" fill="none" stroke="#8a93b8" stroke-width="0.8" opacity="0.7"/>
<g font-size="9.6" fill="#505050"><text x="1046.2" y="540.1" text-anchor="middle">1</text><text x="1087.3" y="540.1" text-anchor="middle">2</text><text x="1128.5" y="540.1" text-anchor="middle">3</text><text x="1169.6" y="540.1" text-anchor="middle">4</text><text x="1210.8" y="540.1" text-anchor="middle">5</text><text x="1251.9" y="540.1" text-anchor="middle">6</text><text x="1293.0" y="540.1" text-anchor="middle">7</text><text x="1334.2" y="540.1" text-anchor="middle">8</text><text x="1004.1" y="511.2" text-anchor="end">-2.5</text><text x="1004.1" y="490.1" text-anchor="end">-2</text><text x="1004.1" y="468.9" text-anchor="end">-1.5</text><text x="1004.1" y="447.8" text-anchor="end">-1</text><text x="1004.1" y="426.6" text-anchor="end">-0.5</text><text x="1004.1" y="405.5" text-anchor="end">0</text><text x="1004.1" y="384.3" text-anchor="end">0.5</text><text x="1004.1" y="363.2" text-anchor="end">1</text><text x="1004.1" y="342.0" text-anchor="end">1.5</text><text x="1004.1" y="320.9" text-anchor="end">2</text><text x="1004.1" y="299.7" text-anchor="end">2.5</text></g>
<text x="1174.3" y="557.6" font-size="15.5" text-anchor="middle" fill="#505050">x (cm)</text>
<text transform="translate(976.1,401.5) rotate(-90)" font-size="15.5" text-anchor="middle" fill="#505050">y (cm)</text>
<text x="1153.0" y="269.8" font-size="19" font-weight="bold" text-anchor="middle" fill="#111">Film</text>
<text x="824" y="800.8" font-family="'Liberation Sans','DejaVu Sans',sans-serif" font-size="40" text-anchor="middle" fill="#000">(g)</text>
<g font-weight="bold" font-size="26.1" fill="#111"><text x="904.7" y="885.2" text-anchor="middle">Dose Maps at Central Cross-Section of Applicator in the Z-plane</text><text><tspan x="505.5" y="919.4">Tungsten Filament Shield </tspan><tspan x="882.4" y="922.4">1/2 </tspan><tspan x="933.8" y="922.4">From Midpoint Ellipsoid</tspan></text></g>
<rect x="82.50" y="1516.57" width="30.80" height="68.63" fill="#471365"/>
<rect x="82.50" y="1448.24" width="30.80" height="68.63" fill="#463480"/>
<rect x="82.50" y="1379.91" width="30.80" height="68.63" fill="#3b528b"/>
<rect x="82.50" y="1311.58" width="30.80" height="68.63" fill="#2f6c8e"/>
<rect x="82.50" y="1243.25" width="30.80" height="68.63" fill="#25848e"/>
<rect x="82.50" y="1174.92" width="30.80" height="68.63" fill="#1e9c89"/>
<rect x="82.50" y="1106.59" width="30.80" height="68.63" fill="#2fb47c"/>
<rect x="82.50" y="1038.26" width="30.80" height="68.63" fill="#5ec962"/>
<rect x="82.50" y="969.93" width="30.80" height="68.63" fill="#9bd93c"/>
<rect x="82.50" y="901.60" width="30.80" height="68.63" fill="#dfe318"/>
<rect x="82.50" y="901.60" width="30.80" height="683.30" fill="none" stroke="#4a4a3a" stroke-width="1" opacity="0.8"/>
<text x="123.5" y="1593.2" font-size="20.4">0</text>
<text x="123.5" y="1524.9" font-size="20.4">10</text>
<text x="123.5" y="1456.5" font-size="20.4">20</text>
<text x="123.5" y="1388.2" font-size="20.4">30</text>
<text x="123.5" y="1319.9" font-size="20.4">40</text>
<text x="123.5" y="1251.5" font-size="20.4">50</text>
<text x="123.5" y="1183.2" font-size="20.4">60</text>
<text x="123.5" y="1114.9" font-size="20.4">70</text>
<text x="123.5" y="1046.6" font-size="20.4">80</text>
<text x="123.5" y="978.2" font-size="20.4">90</text>
<text x="123.5" y="909.9" font-size="20.4">100</text>
<path d="M113.3,1584.9h5M113.3,1516.6h5M113.3,1448.2h5M113.3,1379.9h5M113.3,1311.6h5M113.3,1243.2h5M113.3,1174.9h5M113.3,1106.6h5M113.3,1038.3h5M113.3,969.9h5M113.3,901.6h5" stroke="#222" stroke-width="1.1" fill="none"/>
<text transform="translate(45.8,1243.8) rotate(-90)" font-size="23.5" font-weight="bold" text-anchor="middle" fill="#111">Percentage Depth Dose (PDD)</text>
<clipPath id="cpc"><rect x="224.38" y="1033.18" width="471.24" height="471.24"/></clipPath>
<rect x="224.38" y="1033.18" width="471.24" height="471.24" fill="#471365"/>
<g clip-path="url(#cpc)"><g filter="url(#blur)">
<rect x="212.4" y="1021.2" width="495.2" height="495.2" fill="#471365"/>
<path d="M442.1,1433.7 462,1434.6 479.6,1433.5 491.4,1431.7 497.3,1430.3 507.1,1427.5 520.9,1421.4 539.6,1410.2 552.3,1400.2 564.1,1388.6 572.1,1378.8 572.5,1376.8 571.2,1370.9 570,1368.5 566,1363 551.9,1347.3 541.9,1337.5 536.6,1333.3 534.6,1332 534.3,1331.6 531.8,1329.7 530.7,1328.6 529.3,1327.7 524.8,1324.3 523.9,1323.8 501.2,1303.7 487.5,1292 473.7,1280.3 462,1269.5 460,1269.5 459.3,1268.8 460,1268.1 462,1268.1 469.8,1260.4 485.5,1247.1 523.9,1213.8 528.7,1210.5 530.7,1209 532.6,1207.2 534.3,1206 534.6,1205.6 542.5,1199.5 564.4,1176.5 570.2,1168.7 571.2,1166.7 572.5,1160.8 572.1,1158.8 564.1,1149 552.1,1137.2 538.5,1126.7 526.8,1119.3 511.1,1111.7 505.2,1109.4 499.3,1107.6 477.7,1103.8 458,1103 440.4,1104.1 428.6,1105.9 422.7,1107.3 410.9,1110.4 401.1,1113.7 396.3,1115.6 387.4,1119.7 385.4,1120.8 383.4,1121.6 381.5,1122.8 367.2,1131.4 359,1137.2 351.7,1143.1 334.1,1160.8 326.3,1170.6 318.4,1182.4 312.7,1192.4 312,1194.2 308.2,1202 304.9,1209.9 302.8,1215.8 300.9,1221.7 298.8,1229.5 295,1251.1 294.2,1270.8 295.3,1288.4 297.1,1300.2 298.5,1306.1 301.6,1317.9 304.9,1327.7 306.8,1332.5 310.9,1341.4 312,1343.4 312.8,1345.4 314,1347.3 322.6,1361.6 328.4,1369.8 334.3,1377.1 352,1394.7 361.8,1402.5 373.6,1410.4 383.6,1416.1 385.4,1416.8 393.2,1420.6 401.1,1423.9 407,1426 412.9,1427.9 420.7,1430 442.1,1433.7ZM352,1304.6 339.7,1296.3 330.4,1288 327.9,1284.5 325.8,1280.6 324.3,1276.7 323.4,1272.7 323.1,1268.8 323.4,1264.9 325,1259 328.4,1252.3 330.8,1249.2 340.2,1241 342.3,1239.3 352,1233 354,1232.9 354.9,1233.5 352.5,1241.3 349.9,1255.1 349.1,1264.9 349.2,1274.7 350.8,1288.4 352.5,1296.3 354.9,1304.1 354,1304.7 352,1304.6Z" fill="#463480" fill-rule="evenodd"/>
<path d="M438.8,1398.4 444.3,1399.5 452.1,1400.1 471.8,1399.9 477.7,1399.2 481.6,1398.3 485.5,1397.9 489.5,1397 491.4,1396.3 495.3,1395.6 499.3,1394.2 501.2,1393.8 507.1,1391.6 509.1,1390.5 511.1,1390 520.9,1385.3 526.8,1382.1 528.7,1380.6 530.7,1379.7 534.6,1376.8 538.5,1374.2 548.4,1366.1 553.5,1361.1 554,1359.1 553.2,1355.2 552.3,1353.1 547.6,1347.3 540.5,1339.3 539.1,1337.5 535.5,1333.6 530.7,1329.4 524.8,1325.4 522.8,1324.7 520.9,1323.5 507.1,1311 497.3,1302.1 477.5,1284.5 475.7,1283.2 475.1,1282.5 473.7,1281.5 462,1270.1 460,1270.1 458.7,1268.8 460,1267.5 462,1267.5 471.8,1257.8 475.1,1255.1 475.7,1254.4 484.2,1247.2 495.3,1237.1 506.2,1227.6 521.2,1213.8 522.8,1212.9 524.8,1212.2 530.7,1208.2 535.5,1204 539.1,1200.1 546.4,1191.5 552.4,1184.4 553.2,1182.4 554,1178.5 553.5,1176.5 546.4,1169.8 536.6,1162 534.6,1160.8 530.7,1157.9 528.6,1156.9 526.8,1155.5 511.1,1147.6 509.1,1147.1 507.1,1146 504.2,1145.1 501.2,1143.8 497.3,1142.8 495.3,1142 491,1141.2 489.5,1140.6 485.5,1139.7 481.2,1139.2 475.7,1138.1 467.9,1137.5 448.2,1137.7 442.3,1138.4 438.4,1139.3 434.5,1139.7 430.5,1140.6 428.6,1141.3 424.7,1142 420.7,1143.4 418.8,1143.8 415.7,1145.1 412.9,1145.9 410.8,1147.1 408.9,1147.6 403.1,1150.2 399.1,1152.2 394.4,1154.9 393.2,1155.4 391.3,1156.9 389.3,1157.8 385.3,1160.8 383.4,1161.8 369.7,1173.2 360.8,1182.4 353,1192.2 352,1194.2 349,1198.1 348.1,1200.1 346.6,1202 344.2,1206.7 343.4,1207.9 338.8,1217.7 338.2,1219.7 337.1,1221.7 336.3,1224.5 335.8,1225.6 336.3,1226.2 338.3,1226.9 342.2,1226.3 355.9,1222.5 383.4,1216.7 385.4,1216.6 387.7,1215.8 390,1215.8 383.4,1225.8 377.3,1239.3 374.4,1249.2 373.2,1255.1 372.2,1266.8 372.7,1278.6 374.4,1288.4 377.5,1299 382.4,1310 388.5,1319.9 390,1321.8 387.7,1321.8 385.4,1321 381.5,1320.6 359.9,1315.7 355.9,1315.1 342.2,1311.3 338.3,1310.7 336.3,1311.4 335.8,1312 337.1,1315.9 338.3,1318 338.8,1319.9 341.4,1325.7 343.4,1329.7 346.1,1334.4 346.6,1335.6 348.1,1337.5 349,1339.5 352,1343.5 353,1345.4 364.4,1359.1 373.6,1368 383.4,1375.8 385.4,1376.8 389.3,1379.8 391.3,1380.7 393.2,1382.2 397.9,1384.6 399.1,1385.4 408.9,1390 410.9,1390.6 412.9,1391.7 415.7,1392.5 418.8,1393.8 422.7,1394.8 424.7,1395.6 429,1396.4 430.5,1397 434.5,1397.9 438.8,1398.4Z" fill="#3b528b" fill-rule="evenodd"/>
<path d="M450.4,1382.7 456.1,1383.2 465.9,1383.1 477.7,1382 487.5,1380 491.4,1378.7 495.3,1377.7 497.4,1376.8 501.2,1375.6 505.2,1374 513,1370.3 515.1,1368.9 516.9,1368.1 522.8,1364.5 524.8,1363 526.8,1361.8 539.3,1351.3 541.3,1349.3 541.8,1347.3 541.5,1345.4 540.8,1343.4 537.4,1337.5 534.3,1333.6 532.3,1331.6 526.8,1327.5 524.8,1326.9 520.9,1326.6 516.9,1327 513,1327.1 511.1,1327.7 507.1,1328.1 503.2,1328.1 501.2,1328.3 499.3,1328.8 498.5,1329.7 487.5,1330 483.6,1330.5 481.5,1331.6 440.4,1331.8 438.4,1331.6 436.4,1330.5 432.5,1330 421.5,1329.7 420.7,1328.8 418.8,1328.3 414.8,1328 410.9,1328 408.9,1327.7 407,1327.1 397.2,1326.4 365.8,1323.8 363.8,1323.8 361.8,1324.3 360.7,1325.7 364.3,1331.6 365.8,1333.6 367,1335.6 377.5,1348.1 383.4,1353.8 391.3,1360.4 395.3,1363 399.1,1365.7 403.1,1368.1 405,1369 407,1370.3 412.9,1372.9 414.8,1374 417.2,1374.8 420.7,1376.3 422.7,1376.8 424.7,1377.7 432.5,1380 436.8,1380.7 442.3,1382 450.4,1382.7ZM360.7,1211.9 361.8,1213.3 363.8,1213.8 395.2,1211.5 403.1,1210.6 407,1210.5 408.9,1209.9 412.9,1209.5 416.8,1209.5 418.8,1209.3 420.7,1208.8 421.5,1207.9 432.5,1207.6 436.4,1207.1 438.5,1206 479.6,1205.8 481.6,1206 483.6,1207.1 487.5,1207.6 498.5,1207.9 499.3,1208.8 501.2,1209.3 505.2,1209.6 509.1,1209.6 511.1,1209.9 513,1210.5 520.9,1211 524.8,1210.7 527,1209.9 532.3,1206 537.4,1200.1 540.8,1194.2 541.5,1192.2 541.8,1190.3 541.3,1188.3 536.6,1183.8 528.7,1177.2 524.7,1174.6 520.9,1171.9 516.9,1169.5 515,1168.6 513,1167.3 507.1,1164.7 505.2,1163.6 502.8,1162.8 499.3,1161.3 497.3,1160.8 495.3,1159.9 487.5,1157.6 483.2,1156.9 477.7,1155.6 463.9,1154.4 454.1,1154.5 442.3,1155.6 432.5,1157.6 428.6,1158.9 424.7,1159.9 422.6,1160.8 418.8,1162 414.8,1163.6 407,1167.3 404.9,1168.7 403.1,1169.5 397.2,1173.1 395.2,1174.6 393.2,1175.8 380.7,1186.3 375,1192.2 368.4,1200.1 365.8,1204.1 363.1,1207.9 360.7,1211.9Z" fill="#2f6c8e" fill-rule="evenodd"/>
<path d="M454.3,1372.9 460,1373.1 471.8,1372.5 485.5,1370 493.4,1367.7 503.2,1363.8 511.1,1359.8 524.8,1350.6 534.7,1341.4 535.3,1339.5 535.1,1337.5 534.6,1335.6 533.2,1333.6 530.7,1331.2 528.7,1329.6 522.8,1329.3 507.1,1330.2 485.5,1332.9 460,1334.1 442.3,1333.5 407,1329.7 389.3,1329.2 379.5,1329.7 377.5,1330.4 376.7,1331.6 385.4,1341.6 396.1,1351.3 408.9,1359.8 416.8,1363.8 422.7,1366.3 434.5,1370 444.3,1372 454.3,1372.9ZM379.8,1207.9 393.2,1208.4 412.9,1207.4 434.5,1204.7 460,1203.5 477.7,1204.1 513,1207.9 524.8,1208.3 528.8,1207.9 531.2,1206 533.2,1204 534.6,1201.9 535.1,1200.1 535.3,1198.1 534.6,1196 523.9,1186.3 511.1,1177.8 503.2,1173.8 497.3,1171.3 485.5,1167.6 475.7,1165.6 463.9,1164.6 452.1,1164.8 444.3,1165.6 434.5,1167.6 426.6,1169.9 416.8,1173.8 408.9,1177.8 395.2,1187 385.2,1196.2 376.7,1206 377.5,1207.2 379.8,1207.9Z" fill="#25848e" fill-rule="evenodd"/>
<path d="M450.1,1365 458,1365.6 467.9,1365.3 475.7,1364.4 485.5,1362.2 493.4,1359.7 497.3,1358.2 505.2,1354.5 507.2,1353.2 509.1,1352.3 515,1348.5 522.8,1342.5 530.1,1335.6 529.5,1333.6 520.9,1332.6 507.1,1332.3 471.8,1335.4 442.3,1335.1 412.9,1332.3 399.1,1332.6 390.5,1333.6 389.9,1335.6 399.1,1344.1 410.9,1352.3 414.8,1354.5 422.7,1358.2 436.4,1362.7 444.3,1364.4 450.1,1365ZM390.5,1204 399.1,1205 412.9,1205.3 448.2,1202.2 477.7,1202.5 507.1,1205.3 520.9,1205 529.5,1204 530.1,1202 520.9,1193.5 509.1,1185.3 505.2,1183.1 497.3,1179.4 483.6,1174.9 475.7,1173.2 462,1172 452.1,1172.3 444.3,1173.2 434.5,1175.4 426.6,1177.9 422.7,1179.4 414.8,1183.1 412.8,1184.4 410.9,1185.3 405,1189.1 397.2,1195.1 389.9,1202 390.5,1204Z" fill="#1e9c89" fill-rule="evenodd"/>
<path d="M448.1,1359.1 456.1,1359.9 465.9,1359.8 475.7,1358.6 491.4,1354.4 505.2,1348 513,1342.9 519.9,1337.5 518.9,1336.6 516.9,1335.9 505.2,1334.7 499.3,1334.8 467.9,1337.1 438.4,1336.4 418.8,1334.7 414.8,1334.7 403.1,1335.9 401.1,1336.6 400.1,1337.5 408.9,1344.3 414.8,1348 422.7,1352 428.6,1354.4 440.4,1357.8 448.1,1359.1ZM405.5,1202 414.8,1202.9 420.7,1202.8 452.1,1200.5 481.6,1201.2 501.2,1202.9 505.2,1202.9 516.9,1201.7 518.9,1201 519.9,1200.1 511.1,1193.3 505.2,1189.6 497.3,1185.6 491.4,1183.2 479.6,1179.8 465.9,1177.8 460,1177.6 450.2,1178.2 440.4,1179.8 428.6,1183.2 414.8,1189.6 407,1194.7 400.1,1200.1 401.1,1201 403.1,1201.7 405.5,1202Z" fill="#2fb47c" fill-rule="evenodd"/>
<path d="M442.6,1353.2 448.2,1354.3 462,1355 471.8,1354.3 483.6,1351.8 493.4,1348.4 501.2,1344.6 509.4,1339.5 507.1,1338.1 503.2,1337.3 495.3,1337 454.1,1338.7 420.7,1337 414.8,1337.6 412.9,1338.1 410.6,1339.5 414.8,1342.3 422.7,1346.6 426.6,1348.4 436.4,1351.8 442.6,1353.2ZM415.5,1200.1 420.7,1200.6 426.6,1200.5 465.9,1198.9 499.3,1200.6 505.2,1200 507.1,1199.5 509.4,1198.1 505.2,1195.3 497.3,1191 493.4,1189.2 483.6,1185.8 471.8,1183.3 458,1182.6 448.2,1183.3 436.4,1185.8 426.6,1189.2 418.8,1193 410.6,1198.1 412.9,1199.5 415.5,1200.1Z" fill="#5ec962" fill-rule="evenodd"/>
<path d="M444,1349.3 452.1,1350.6 462,1350.9 469.8,1350.4 479.6,1348.6 487.5,1346.2 497.3,1342 498.3,1341.4 497.2,1339.5 489.5,1339.2 456.1,1340.3 426.6,1339.2 422.7,1339.6 421.7,1341.4 428.6,1344.7 434.5,1346.9 442.3,1349 444,1349.3ZM422.8,1198.1 430.5,1198.4 463.9,1197.3 493.4,1198.4 497.3,1198 498.3,1196.2 491.4,1192.9 485.5,1190.7 477.7,1188.6 467.9,1187 458,1186.7 450.2,1187.2 440.4,1189 432.5,1191.4 422.7,1195.6 421.7,1196.2 422.8,1198.1Z" fill="#9bd93c" fill-rule="evenodd"/>
<path d="M442.7,1345.4 456.1,1347.2 463.9,1347.2 477.7,1345.3 484.3,1343.4 485.5,1342.1 487.5,1341.6 489.5,1341.4 481.3,1341.4 454.1,1342.1 440.4,1341.6 432.5,1341.6 434.5,1342.1 435.7,1343.4 440.4,1344.6 442.7,1345.4ZM430.4,1196.2 438.7,1196.2 465.9,1195.5 479.6,1196 487.5,1196 485.5,1195.5 484.3,1194.2 479.6,1193 477.3,1192.2 463.9,1190.4 456.1,1190.4 442.3,1192.3 435.7,1194.2 434.5,1195.5 432.5,1196 430.4,1196.2Z" fill="#dfe318" fill-rule="evenodd"/>
<path d="M404.8,1327.4H515.2V1333.9H404.8ZM383.0,1321.5H537.0V1328.0H383.0ZM367.7,1315.6H552.3V1322.1H367.7ZM356.0,1309.7H564.0V1316.2H356.0ZM346.8,1303.8H573.2V1310.3H346.8ZM339.4,1298.0H580.6V1304.4H339.4ZM333.6,1292.1H586.4V1298.6H333.6ZM329.1,1286.2H590.9V1292.7H329.1ZM325.9,1280.3H594.1V1286.8H325.9ZM323.7,1274.4H596.3V1280.9H323.7ZM322.7,1268.5H597.3V1275.0H322.7ZM322.7,1262.6H597.3V1269.1H322.7ZM323.7,1256.7H596.3V1263.2H323.7ZM325.9,1250.8H594.1V1257.3H325.9ZM329.1,1244.9H590.9V1251.4H329.1ZM333.6,1239.0H586.4V1245.5H333.6ZM339.4,1233.2H580.6V1239.6H339.4ZM346.8,1227.3H573.2V1233.8H346.8ZM356.0,1221.4H564.0V1227.9H356.0ZM367.7,1215.5H552.3V1222.0H367.7ZM383.0,1209.6H537.0V1216.1H383.0ZM404.8,1203.7H515.2V1210.2H404.8Z" fill="#471365"/>
</g>
<path d="M459.4,1154.9H224.4M459.4,1382.7H224.4" stroke="#e5282c" stroke-width="2.9" stroke-dasharray="13.7 6.9" stroke-dashoffset="1" fill="none" opacity="0.9"/>
<path d="M457.7,1154.9H695.6M457.7,1382.7H695.6" stroke="#dda030" stroke-width="3.3" stroke-dasharray="13.7 6.9" stroke-dashoffset="5" fill="none" opacity="0.92"/>
<path d="M459.4,1154.9V1382.7" stroke="#dda030" stroke-width="3.1" stroke-dasharray="13.7 6.9" stroke-dashoffset="5" fill="none" opacity="0.92"/>
<path d="M459.4,1154.9V1382.7" stroke="#e5282c" stroke-width="3.0" stroke-dasharray="13.7 6.9" stroke-dashoffset="1" fill="none" opacity="0.92"/>
</g>
<rect x="224.78" y="1033.58" width="470.44" height="470.44" fill="none" stroke="#2a1040" stroke-width="0.8"/>
<text x="224.4" y="1528.2" font-size="17.8" text-anchor="middle">−6</text>
<text x="214.9" y="1510.9" font-size="17.8" text-anchor="end">−6</text>
<text x="302.9" y="1528.2" font-size="17.8" text-anchor="middle">−4</text>
<text x="214.9" y="1432.4" font-size="17.8" text-anchor="end">−4</text>
<text x="381.5" y="1528.2" font-size="17.8" text-anchor="middle">−2</text>
<text x="214.9" y="1353.8" font-size="17.8" text-anchor="end">−2</text>
<text x="460.0" y="1528.2" font-size="17.8" text-anchor="middle">0</text>
<text x="214.9" y="1275.3" font-size="17.8" text-anchor="end">0</text>
<text x="538.5" y="1528.2" font-size="17.8" text-anchor="middle">2</text>
<text x="214.9" y="1196.8" font-size="17.8" text-anchor="end">2</text>
<text x="617.1" y="1528.2" font-size="17.8" text-anchor="middle">4</text>
<text x="214.9" y="1118.2" font-size="17.8" text-anchor="end">4</text>
<text x="695.6" y="1528.2" font-size="17.8" text-anchor="middle">6</text>
<text x="214.9" y="1039.7" font-size="17.8" text-anchor="end">6</text>
<path d="M224.4,1504.4v5M224.4,1504.4h-5M302.9,1504.4v5M224.4,1425.9h-5M381.5,1504.4v5M224.4,1347.3h-5M460.0,1504.4v5M224.4,1268.8h-5M538.5,1504.4v5M224.4,1190.3h-5M617.1,1504.4v5M224.4,1111.7h-5M695.6,1504.4v5M224.4,1033.2h-5" stroke="#222" stroke-width="1.1" fill="none"/>
<text x="460.0" y="1552.8" font-size="19.2" text-anchor="middle">x (cm)</text>
<text transform="translate(176.9,1268.8) rotate(-90)" font-size="19.2" text-anchor="middle">y (cm)</text>
<text x="459.0" y="1025.2" font-size="19.5" font-weight="bold" text-anchor="middle" fill="#111">Monte Carlo</text>
<clipPath id="cpd"><rect x="798.87" y="1143.75" width="335.36" height="241.86"/></clipPath>
<rect x="798.87" y="1143.75" width="335.36" height="241.86" fill="#482878"/>
<g clip-path="url(#cpd)"><g filter="url(#blur2)">
<path d="M794.7,1393.5 926.5,1393.5 925.9,1390.2 924.7,1387.6 912.1,1368.5 904.1,1358.5 896.4,1347.3 887.3,1336.8 886.4,1336.1 874.7,1331.6 871.4,1330.7 868.9,1328.5 867.8,1326.8 862.4,1313.5 861.2,1311.8 851.4,1304.3 811.6,1276.8 811.4,1276.5 806.4,1272.9 804.4,1271.8 801.4,1269.2 799.6,1268.4 796.2,1265.1 799.7,1261.7 801.4,1261 804.7,1258.2 806.4,1257.3 809.7,1254.7 811.4,1253.7 859.2,1220.1 861.4,1218.2 862.4,1216.7 868,1203.1 868.9,1201.7 871.4,1199.5 881.4,1196.2 886.4,1194.1 891.8,1188.4 901,1176.7 904.1,1171.7 915.7,1156.7 925.2,1141.7 925.9,1140 926.5,1136.7 794.7,1136.7 794.7,1393.5Z" fill="#3e4a89" fill-rule="evenodd"/>
<path d="M794.7,1393.5 859,1393.5 863,1391.5 865,1390.2 866.4,1389.7 868,1388.4 869.7,1387.7 871.4,1386.6 873,1385.2 874.7,1384.4 878,1381.8 881.4,1379.6 886.4,1375.2 889.7,1372.7 894,1368.5 894.8,1365.2 894.1,1360.2 891.4,1355.1 882.7,1341.8 878.4,1336.8 874.5,1333.5 873,1332.5 872.4,1331.8 869.7,1330 868,1328.3 864.6,1323.5 861.6,1318.5 858.9,1313.5 851.3,1306.8 799.4,1268.4 796,1265.1 799.7,1261.5 851.4,1223.4 858.9,1216.7 865.7,1205.1 868.1,1201.7 869.9,1200 872.4,1198.4 873,1197.7 876.6,1195 878.4,1193.4 883.9,1186.7 888,1180 893.4,1171.7 894.1,1170 894.8,1165 894,1161.7 891.4,1159 881.4,1150.6 877.9,1148.3 876.4,1147 874.7,1145.8 873,1145 871.4,1143.6 869.7,1142.5 867.9,1141.7 866.4,1140.5 864.7,1139.8 859.7,1136.9 794.7,1136.7 794.7,1393.5Z" fill="#31688e" fill-rule="evenodd"/>
<path d="M794.7,1388.5 794.7,1390.2 806.4,1389.8 819.7,1387.8 828,1385.8 833,1384.3 841.4,1381.3 851.4,1376.7 866.4,1367.7 876.4,1359.9 881.4,1355.2 881.7,1353.5 881.7,1351.8 880.8,1348.5 879.3,1345.2 878.8,1343.5 875.2,1336.8 874.1,1335.2 871.1,1331.8 867.5,1328.5 866.4,1327.2 865.8,1326.8 860.4,1320.1 857.1,1315.1 851.4,1309.4 799.2,1268.4 795.9,1265.1 799.7,1261.3 852.2,1220.1 857.1,1215.1 861.6,1208.4 865.8,1203.4 866.4,1203 869.7,1199.6 872.7,1196.7 875.2,1193.4 878.8,1186.7 880.8,1181.7 881.7,1178.4 881.7,1176.7 881.4,1174.9 871.4,1166.2 856.4,1156.2 846.4,1151.1 841.4,1148.9 831.4,1145.4 816.4,1141.8 801.4,1140.1 794.7,1140 794.7,1388.5Z" fill="#26828e" fill-rule="evenodd"/>
<path d="M794.7,1375.2 794.7,1376.1 806.4,1375.5 816.4,1374 828,1371 838,1367.3 849.7,1361.5 856.4,1357.4 866.4,1349.8 873.1,1343.5 873.7,1341.8 873.6,1338.5 871.4,1333.2 870.4,1331.8 866.4,1327.9 864.7,1326.8 861.2,1323.5 858,1319.7 854.7,1315.1 849.7,1310.1 797.3,1266.8 795.7,1265.1 799.7,1261.1 849.7,1220.1 854.7,1215.1 859.7,1208.4 863,1204.9 864.7,1203.4 866.4,1202.3 870.4,1198.4 871.6,1196.7 873.2,1193.4 873.6,1191.7 873.7,1188.4 873,1186.6 863,1177.6 856.4,1172.8 844.7,1166 839.7,1163.6 826.4,1158.7 821.4,1157.3 818,1156.7 811.4,1155.3 798,1154.1 794.7,1154.1 794.7,1375.2Z" fill="#1f9e89" fill-rule="evenodd"/>
<path d="M794.7,1365.2 794.7,1365.7 799.7,1365.6 813,1364 819.7,1362.6 829.7,1359.4 834.7,1357.4 844.7,1352.4 851.4,1348.2 861.5,1340.2 866.8,1335.2 869.7,1332 869.7,1331.8 868,1330 859.4,1323.5 854.7,1318 849.4,1311.8 799.7,1269.3 795.5,1265.1 799.7,1260.9 849.7,1218.1 853.9,1213.4 858,1208.2 859.7,1206.4 864.7,1202.4 865.9,1201.7 868.2,1200 869.7,1198.4 869.7,1198.2 861.4,1189.9 854.7,1184.4 846.4,1178.8 834.7,1172.8 826.4,1169.6 818,1167.2 806.4,1165.2 799.7,1164.6 794.7,1164.5 794.7,1365.2Z" fill="#2fb47c" fill-rule="evenodd"/>
<path d="M794.7,1356.8 794.7,1358.1 808,1357.2 821.4,1354.3 833,1349.9 843,1344.6 853,1337.6 861.4,1329.9 862.7,1328.5 861.3,1326.8 854.5,1320.1 850.6,1315.1 845.6,1310.1 799.7,1269.5 795.4,1265.1 799.7,1260.7 848,1217.9 854.7,1209.8 858,1206.4 861.4,1203.2 862.7,1201.7 853,1192.6 846.4,1187.7 834.7,1181.1 824.7,1177 814.7,1174.2 803,1172.4 794.7,1172.1 794.7,1356.8Z" fill="#5ec962" fill-rule="evenodd"/>
<path d="M794.7,1351.8 806.4,1351.2 816.4,1349.2 821.4,1347.8 826.4,1346 836.4,1341.3 846.4,1334.8 855.7,1326.8 856.1,1325.1 851.4,1317.9 844,1310.1 804.7,1274.3 795.2,1265.1 834.7,1228.4 848,1216.2 851.8,1211.7 856.1,1205.1 855.7,1203.4 849.7,1198 844.7,1194.1 839.7,1190.8 838,1190 836.4,1188.9 829.7,1185.6 824.7,1183.6 821.4,1182.4 814.7,1180.6 804.7,1178.8 794.7,1178.4 794.7,1351.8Z" fill="#90d743" fill-rule="evenodd"/>
<path d="M794.7,1346.8 794.7,1347.3 804.7,1346.7 816.4,1344.4 828.1,1340.2 838,1334.9 849.7,1326.1 851.4,1324.4 851.8,1323.5 851.4,1321 849,1316.8 846.2,1313.5 795,1265.1 803,1257.2 846.4,1216.5 849,1213.4 851.4,1209.2 851.8,1206.7 851.4,1205.8 846.4,1201.2 836.4,1194.3 824.7,1188.6 816.4,1185.8 804.7,1183.5 794.7,1182.9 794.7,1346.8Z" fill="#c8e020" fill-rule="evenodd"/>
<path d="M794.7,1341.8 794.7,1342.9 799.7,1342.8 808.4,1341.8 816.4,1339.9 821.4,1338.3 828.7,1335.2 832,1333.5 833,1332.8 840,1328.5 846.4,1323.5 848.1,1321.8 848.6,1320.1 848,1318.4 846.1,1315.1 794.9,1265.1 846.4,1214.7 848.1,1211.7 848.6,1210.1 848,1208.3 839.7,1201.5 834.7,1198.2 833,1197.4 824.7,1193.2 820.9,1191.7 814.7,1189.8 808,1188.3 798,1187.3 794.7,1187.3 794.7,1341.8Z" fill="#fde725" fill-rule="evenodd"/>
<path d="M926.5,1393.5 925.9,1390.2 924.7,1387.6 922.2,1383.5 912.1,1368.5 904.1,1358.5 896.4,1347.3 887.3,1336.8 886.4,1336.1 878,1332.7 874.7,1331.6 871.4,1330.7 868.9,1328.5 867.8,1326.8 862.4,1313.5 861.2,1311.8 851.4,1304.3 811.6,1276.8 811.4,1276.5 806.9,1273.4 806.4,1272.9 804.4,1271.8 801.4,1269.2 799.6,1268.4 796.2,1265.1 799.7,1261.7 801.4,1261 804.7,1258.2 806.4,1257.3 809.7,1254.7 811.4,1253.7 811.6,1253.4 859.2,1220.1 861.4,1218.2 862.4,1216.7 868,1203.1 868.9,1201.7 871.4,1199.5 881.4,1196.2 886.4,1194.1 891.8,1188.4 899.8,1178.4 904.1,1171.7 910.8,1163.4 916.8,1155 925.2,1141.7 925.9,1140 926.5,1136.7M859,1393.5 859.7,1393.3 865,1390.2 866.4,1389.7 868,1388.4 869.7,1387.7 871.4,1386.6 873,1385.2 874.7,1384.4 875.8,1383.5 876.4,1383.2 878,1381.8 879.7,1380.8 881.4,1379.6 886.4,1375.2 889.7,1372.7 894,1368.5 894.8,1365.2 894.1,1360.2 892.4,1356.8 889.2,1351.8 888,1350.2 883.9,1343.5 881.4,1340.1 878.4,1336.8 878,1336.6 876.4,1335 873,1332.5 872.4,1331.8 871.4,1331.3 869.7,1330 868,1328.3 866.4,1325.9 864.6,1323.5 861.6,1318.5 858.9,1313.5 851.3,1306.8 799.4,1268.4 796,1265.1 799.7,1261.5 851.4,1223.4 858.9,1216.7 861.4,1212.3 861.6,1211.7 865.7,1205.1 866.4,1204.3 868.1,1201.7 869.9,1200 871.4,1198.9 872.4,1198.4 873,1197.7 876.6,1195 878,1193.6 878.4,1193.4 883.9,1186.7 888,1180 893.4,1171.7 894.1,1170 894.8,1165 894,1161.7 891.4,1159 881.4,1150.6 877.9,1148.3 876.4,1147 875.8,1146.7 874.7,1145.8 873,1145 871.4,1143.6 869.7,1142.5 867.9,1141.7 866.4,1140.5 864.7,1139.8 859.7,1136.9 859,1136.7M794.7,1390.2 806.4,1389.8 819.7,1387.8 828,1385.8 833,1384.3 839.7,1381.8 841.4,1381.3 851.4,1376.7 866.4,1367.7 876.4,1359.9 881.4,1355.2 881.7,1353.5 881.7,1351.8 880.8,1348.5 879.3,1345.2 878.8,1343.5 877.2,1340.2 875.2,1336.8 874.1,1335.2 871.1,1331.8 867.5,1328.5 866.4,1327.2 865.8,1326.8 860.4,1320.1 857.1,1315.1 851.4,1309.4 799.2,1268.4 795.9,1265.1 799.7,1261.3 852.2,1220.1 857.1,1215.1 861.6,1208.4 865.8,1203.4 866.4,1203 869.7,1199.6 871.4,1198.1 874.1,1195 875.2,1193.4 878.8,1186.7 879.3,1185 880.8,1181.7 881.7,1178.4 881.7,1176.7 881.4,1174.9 873,1167.5 866.4,1162.5 856.4,1156.2 846.4,1151.1 841.4,1148.9 831.4,1145.4 819.7,1142.4 806.4,1140.4 794.7,1140M794.7,1376.1 804.7,1375.7 809.7,1375 811.4,1374.9 816.4,1374 821.4,1372.9 833,1369.3 834.8,1368.5 838,1367.3 838.9,1366.8 839.7,1366.6 849.7,1361.5 856.4,1357.4 863,1352.6 871.4,1345.2 873.1,1343.5 873.7,1341.8 873.6,1338.5 873.2,1336.8 871.4,1333.2 870.4,1331.8 866.4,1327.9 864.7,1326.8 861.2,1323.5 858,1319.7 854.7,1315.1 849.7,1310.1 818,1284.2 797.3,1266.8 795.7,1265.1 799.7,1261.1 817.2,1246.8 849.7,1220.1 854.7,1215.1 859.7,1208.4 863,1204.9 864.7,1203.4 866.4,1202.3 870.4,1198.4 871.6,1196.7 873.2,1193.4 873.6,1191.7 873.7,1188.4 873,1186.6 863,1177.6 856.4,1172.8 844.7,1166 839.7,1163.6 838.9,1163.4 836.4,1162.2 826.4,1158.7 821.4,1157.3 818,1156.7 816.4,1156.2 811.4,1155.3 808,1155 804.7,1154.5 794.7,1154.1M794.7,1365.7 799.7,1365.6 809.7,1364.6 819.7,1362.6 829.7,1359.4 834.7,1357.4 844.7,1352.4 845.5,1351.8 846.4,1351.4 851.4,1348.2 858,1343.2 863.4,1338.5 866.8,1335.2 869.7,1332 869.7,1331.8 868,1330 866.4,1329 865.9,1328.5 864.7,1327.8 859.4,1323.5 854.7,1318 853.9,1316.8 849.4,1311.8 800.8,1270.1 799.7,1269.3 795.5,1265.1 799.7,1260.9 849.7,1218.1 853.9,1213.4 856.4,1210 859.7,1206.4 864.7,1202.4 865.9,1201.7 866.4,1201.2 868.2,1200 869.7,1198.4 869.7,1198.2 866.4,1194.6 861.4,1189.9 854.7,1184.4 853,1183.3 851.4,1182 846.4,1178.8 845.5,1178.4 844.7,1177.8 834.7,1172.8 826.4,1169.6 818,1167.2 809.7,1165.6 799.7,1164.6 794.7,1164.5M794.7,1358.1 803,1357.8 814.7,1356 821.4,1354.3 826.4,1352.6 836.4,1348.3 843,1344.6 849.7,1340.1 859.7,1331.6 862.7,1328.5 861.3,1326.8 854.5,1320.1 850.6,1315.1 845.6,1310.1 804.2,1273.4 799.7,1269.5 795.4,1265.1 799.7,1260.7 803,1257.7 848,1217.9 851.9,1213.4 853.1,1211.7 856.4,1208 861.4,1203.2 862.7,1201.7 855.9,1195 849.6,1190 846.4,1187.7 834.7,1181.1 829.7,1178.9 821.4,1175.9 814.7,1174.2 803,1172.4 794.7,1172.1M794.7,1351.8 804.7,1351.4 816.4,1349.2 821.4,1347.8 823.8,1346.8 826.4,1346 828,1345.2 833,1343 836.4,1341.3 838,1340.2 839.7,1339.4 846.4,1334.8 854.7,1327.8 855.7,1326.8 856.1,1325.1 854.1,1321.8 851.4,1317.9 846.4,1312.3 804.7,1274.3 803.9,1273.4 795.2,1265.1 803,1257.5 803.9,1256.8 804.7,1255.9 834.7,1228.4 848,1216.2 851.8,1211.7 855.2,1206.7 856.1,1205.1 855.7,1203.4 849.7,1198 844.7,1194.1 839.7,1190.8 838,1190 836.4,1188.9 829.7,1185.6 828,1185 826.4,1184.2 823,1183.1 821.4,1182.4 814.7,1180.6 806.4,1179 794.7,1178.4M794.7,1347.3 801.4,1347 811.4,1345.6 819.7,1343.4 828.1,1340.2 833,1337.8 841.4,1332.7 849.7,1326.1 851.4,1324.4 851.8,1323.5 851.4,1321 849,1316.8 846.2,1313.5 833,1301.2 808.8,1278.4 804.7,1274.6 803.6,1273.4 795,1265.1 803,1257.2 803.6,1256.8 808,1252.4 832,1230.1 846.4,1216.5 849,1213.4 851.4,1209.2 851.8,1206.7 851.4,1205.8 846.4,1201.2 837.6,1195 828,1190 816.4,1185.8 808,1184 804.7,1183.5 796.4,1182.9 794.7,1182.9M794.7,1342.9 799.7,1342.8 808.4,1341.8 815.6,1340.2 821.4,1338.3 828.7,1335.2 832,1333.5 833,1332.8 834.9,1331.8 840,1328.5 846.4,1323.5 848.1,1321.8 848.6,1320.1 848,1318.4 846.1,1315.1 794.9,1265.1 846.4,1214.7 848.1,1211.7 848.6,1210.1 848,1208.3 839.7,1201.5 834.7,1198.2 833,1197.4 831.4,1196.4 824.7,1193.2 820.9,1191.7 814.7,1189.8 808,1188.3 798,1187.3 794.7,1187.3" fill="none" stroke="#0b1526" stroke-width="0.85" stroke-opacity="0.85"/>

<ellipse cx="794.70" cy="1265.10" rx="147.06" ry="73.60" fill="#fff" stroke="#141a08" stroke-width="1.5"/>
</g>
<path d="M1128.3,1147.6H798.9M1128.3,1382.0H798.9" fill="none" stroke="#f5a21a" stroke-width="3.0" stroke-dasharray="13.6 7" stroke-opacity="0.74"/>
<path d="M801.6,1143.8V1385.6" fill="none" stroke="#f5a21a" stroke-width="4.6" stroke-dasharray="13.6 7" stroke-dashoffset="4.5" stroke-opacity="0.6"/>
</g>
<path d="M798.9,1143.8V1385.6" fill="none" stroke="#8a93b8" stroke-width="0.8" opacity="0.7"/>
<g font-size="9.5" fill="#505050"><text x="836.4" y="1401.0" text-anchor="middle">1</text><text x="878.0" y="1401.0" text-anchor="middle">2</text><text x="919.7" y="1401.0" text-anchor="middle">3</text><text x="961.3" y="1401.0" text-anchor="middle">4</text><text x="1003.0" y="1401.0" text-anchor="middle">5</text><text x="1044.7" y="1401.0" text-anchor="middle">6</text><text x="1086.3" y="1401.0" text-anchor="middle">7</text><text x="1128.0" y="1401.0" text-anchor="middle">8</text><text x="793.9" y="1372.9" text-anchor="end">-2.5</text><text x="793.9" y="1352.0" text-anchor="end">-2</text><text x="793.9" y="1331.2" text-anchor="end">-1.5</text><text x="793.9" y="1310.3" text-anchor="end">-1</text><text x="793.9" y="1289.5" text-anchor="end">-0.5</text><text x="793.9" y="1268.6" text-anchor="end">0</text><text x="793.9" y="1247.8" text-anchor="end">0.5</text><text x="793.9" y="1226.9" text-anchor="end">1</text><text x="793.9" y="1206.1" text-anchor="end">1.5</text><text x="793.9" y="1185.2" text-anchor="end">2</text><text x="793.9" y="1164.4" text-anchor="end">2.5</text></g>
<text x="966.5" y="1413.6" font-size="10.1" text-anchor="middle" fill="#505050">x (cm)</text>
<text transform="translate(766.9,1264.7) rotate(-90)" font-size="10.1" text-anchor="middle" fill="#505050">y (cm)</text>
<text x="966.5" y="1139.5" font-size="10.25" font-weight="bold" text-anchor="middle" fill="#111">Film Shielded Direction</text>
<clipPath id="cpe"><rect x="1249.45" y="1143.75" width="335.78" height="241.86"/></clipPath>
<rect x="1249.45" y="1143.75" width="335.78" height="241.86" fill="#482878"/>
<g clip-path="url(#cpe)"><g filter="url(#blur2)">
<path d="M1245.7,1393.5 1398.3,1393.5 1399,1391.2 1399.8,1390.2 1400.4,1388.5 1400.7,1386.3 1404,1383.1 1405.7,1381.9 1407.3,1381.8 1409,1381.1 1412.3,1380.8 1413,1380.2 1413.6,1378.5 1415.7,1376.2 1417.3,1374.9 1419,1374.9 1419.5,1373.5 1422.3,1371.8 1424,1370.2 1424.7,1371.9 1425.7,1372.7 1427.5,1371.9 1427.5,1370.2 1429,1368.1 1430,1368.5 1430.7,1369.3 1430.9,1368.5 1430.7,1366.8 1432.2,1365.2 1430.7,1364.4 1430.2,1363.5 1430.7,1363 1432.3,1362.4 1434,1362.5 1434.6,1361.8 1434,1360.2 1434.7,1358.5 1436,1356.8 1435.7,1356.4 1434,1355.8 1433.6,1355.2 1434,1354.3 1435.7,1353.5 1437.3,1354.5 1438.5,1353.5 1439.3,1351.8 1439,1350.2 1437.3,1349.2 1436.9,1348.5 1436.8,1346.8 1437.3,1345.4 1439,1344.7 1441.7,1341.8 1443.1,1338.5 1443.1,1336.8 1444,1335.2 1444.6,1333.5 1445.7,1331.9 1447.3,1332.5 1447.8,1331.8 1447.9,1330.2 1447.3,1329.5 1446.4,1330.2 1445.7,1331.6 1445,1330.2 1445.3,1328.5 1445.3,1326.8 1444.8,1325.1 1445.7,1324 1447.3,1324.2 1447.9,1323.5 1447.1,1320.1 1449,1319.5 1450.7,1319.4 1451,1318.5 1449.3,1316.8 1450.7,1312.5 1451.5,1311.8 1450.7,1311.6 1449.5,1310.1 1450.3,1308.5 1450.6,1306.8 1450.4,1305.1 1450.7,1304.7 1451.5,1305.1 1451.5,1306.8 1452.8,1306.8 1454,1305.6 1454,1304.6 1453.7,1303.5 1452.6,1301.8 1452.3,1301.7 1451.7,1300.1 1452.7,1296.8 1452.5,1295.1 1450.7,1294.6 1449.6,1293.5 1450.7,1292.9 1451.3,1291.8 1450.7,1290.6 1449,1289.2 1448.5,1288.5 1447.3,1287.5 1445.6,1286.8 1445.7,1285.1 1444,1284.8 1443.6,1283.4 1444,1282.6 1445.7,1282.1 1446,1281.8 1445.9,1280.1 1445.7,1279.8 1444,1279.3 1443.5,1278.4 1443.1,1276.8 1443.5,1275.1 1445.2,1273.4 1444,1271.2 1442.3,1270.4 1442.3,1268.4 1442.7,1266.8 1443.4,1265.1 1442.3,1264.7 1440.3,1263.4 1440.7,1261.8 1440.8,1260.1 1441.4,1258.4 1440.7,1258 1439.5,1258.4 1440.4,1260.1 1439,1260.9 1438,1260.1 1438.6,1258.4 1439,1255 1436,1250.1 1436.3,1248.4 1435.5,1245.1 1435.7,1244.7 1438.2,1243.4 1437.2,1241.7 1438.4,1238.4 1438.8,1236.7 1436.3,1235.1 1435.7,1233.1 1434,1232 1432.3,1231.6 1434,1231.2 1434.6,1230.1 1435,1226.7 1434.3,1225.1 1434,1223.3 1435.4,1220.1 1433.9,1218.4 1435.7,1216.7 1434,1215.8 1430.7,1215.2 1429,1215.5 1427.3,1214.1 1426.9,1213.4 1426.4,1211.7 1426.7,1210.1 1425.6,1208.4 1423.9,1205.1 1424,1203.4 1423.4,1201.7 1422.5,1200 1422.3,1198.3 1424.2,1196.7 1420.7,1195.7 1419.9,1195 1419.9,1193.4 1418.8,1191.7 1418.2,1190 1419.9,1186.7 1419.2,1185 1418.8,1185 1417.4,1186.7 1417.6,1188.4 1417.3,1188.4 1417.3,1186.7 1414,1183.4 1414.7,1181.7 1414,1178.3 1412.3,1176 1410.7,1175.5 1408.1,1173.4 1407.4,1171.7 1407.5,1170 1406.1,1168.4 1405.5,1166.7 1405.3,1165 1407.3,1163.9 1409.1,1163.4 1409,1163 1407.3,1162.2 1405.7,1162.3 1405.2,1161.7 1405.7,1161 1407.3,1161.2 1409,1160.3 1409,1159.9 1407.3,1159.1 1406.4,1158.3 1407.3,1157.2 1408.2,1156.7 1407.3,1156 1406.7,1155 1404,1153.7 1402.3,1153.8 1400.5,1153.3 1399,1151.5 1398.5,1150 1397.3,1149 1396,1148.3 1395.4,1146.7 1395.3,1145 1394.8,1143.3 1394.7,1141.7 1395.7,1140 1396.1,1138.3 1394.4,1136.7 1245.7,1136.7 1245.7,1393.5ZM1447.3,1313.5 1447,1311.8 1447.3,1311.3 1447.7,1311.8 1447.5,1313.5 1447.3,1313.5ZM1432.3,1229.6 1431.2,1228.4 1432,1226.7 1432.3,1226.5 1432.8,1226.7 1433.6,1228.4 1432.3,1229.6ZM1432.4,1365.2 1434,1366.5 1434.7,1365.2 1434,1364.1 1432.4,1365.2ZM1453.7,1288.5 1454,1288.9 1454.3,1288.5 1454,1288.2 1453.7,1288.5ZM1440.3,1251.8 1440.7,1252 1441.2,1251.8 1440.7,1251.4 1440.3,1251.8Z" fill="#3e4a89" fill-rule="evenodd"/>
<path d="M1245.7,1393.5 1320.3,1393.5 1324,1391.3 1330.7,1386.6 1336.5,1381.9 1339,1378.5 1343.3,1373.5 1348,1366.8 1349,1365 1350.2,1363.5 1352.3,1359.7 1357.3,1353.4 1360.3,1350.2 1361.5,1348.5 1362.3,1346.8 1365.2,1343.5 1367.3,1339.9 1368.5,1338.5 1369,1336.8 1370.4,1335.2 1372.3,1331.5 1373.4,1330.2 1374,1328.3 1375.1,1326.8 1375.7,1324.9 1376.6,1323.5 1377.1,1321.8 1377.4,1320.1 1378.5,1318.5 1379,1315.8 1380.2,1313.5 1380.7,1310.1 1381.6,1308.5 1382.3,1303.9 1383.3,1301.8 1385,1286.8 1384.9,1278.4 1383.9,1270.1 1383.3,1255.1 1382.3,1250.9 1381.8,1243.4 1381.4,1241.7 1380.7,1240.1 1380.1,1235.1 1379,1232.4 1378.4,1228.4 1377.3,1226.7 1376.9,1221.7 1376.5,1220.1 1375.7,1218.4 1375.3,1215.1 1374.8,1213.4 1374,1211.7 1373.4,1208.4 1372.3,1206.7 1372.1,1205.1 1371.6,1203.4 1370.6,1201.7 1370.3,1200 1368.8,1196.7 1368.3,1195 1367.3,1193.4 1366.8,1191.7 1365.6,1190 1365.1,1188.4 1363.9,1186.7 1363.2,1185 1360.7,1181 1360.3,1180 1358.9,1178.4 1358.1,1176.7 1357.3,1175.7 1357,1175 1355.6,1173.4 1353.5,1170 1349,1164.7 1343.7,1158.3 1332.4,1147.3 1330.7,1145.9 1329,1145 1325.7,1142.3 1324,1141.4 1320.7,1139 1319,1138.3 1317.4,1137.1 1316.5,1136.7 1245.7,1136.7 1245.7,1393.5Z" fill="#31688e" fill-rule="evenodd"/>
<path d="M1245.7,1388.5 1245.7,1390.2 1259,1389.7 1272.4,1387.5 1279,1385.9 1280.7,1385.2 1284,1384.4 1286.1,1383.5 1289,1382.6 1290.7,1381.8 1297.4,1379.2 1307.4,1374.1 1317.4,1367.8 1320.7,1365.2 1322.4,1364.1 1332.5,1355.2 1343.2,1343.5 1351.5,1331.8 1356.3,1323.5 1361.7,1311.8 1366.7,1296.8 1369.1,1285.1 1370.6,1270.1 1370.4,1256.8 1368.8,1243.4 1365.7,1230.1 1360.7,1216.1 1355.4,1205.1 1352.5,1200 1341.8,1185 1332.4,1174.9 1322.4,1166.2 1312.4,1159.1 1300.7,1152.6 1292.4,1148.9 1287.4,1147 1277.4,1143.9 1267.4,1141.8 1259,1140.5 1245.7,1140 1245.7,1388.5Z" fill="#26828e" fill-rule="evenodd"/>
<path d="M1245.7,1375.2 1245.7,1375.7 1252.4,1375.5 1265.7,1373.9 1272.4,1372.5 1282.4,1369.5 1287.4,1367.6 1297.4,1362.9 1299.1,1361.8 1300.7,1361.1 1305.7,1358 1312.4,1353.3 1314.1,1351.8 1320.7,1346.4 1331.2,1335.2 1336.3,1328.5 1339.6,1323.5 1345.1,1313.5 1350,1301.8 1352.1,1295.1 1352.4,1293.5 1355,1281.8 1356.2,1268.4 1356,1258.4 1354.4,1245.1 1353,1238.4 1352.3,1236.5 1350,1228.4 1346.7,1220.1 1341.6,1210.1 1335.1,1200 1326.9,1190 1315.7,1179.5 1309,1174.4 1300.7,1169.1 1290.7,1164 1288.8,1163.4 1287.4,1162.6 1275.7,1158.6 1274,1158.3 1270.7,1157.3 1259,1155.3 1245.7,1154.5 1245.7,1375.2Z" fill="#1f9e89" fill-rule="evenodd"/>
<path d="M1245.7,1365.2 1245.7,1366.1 1252.4,1365.9 1265.7,1364.1 1277.4,1361 1289,1356.3 1304,1347.5 1315.7,1337.8 1322.8,1330.2 1328,1323.5 1336.8,1308.5 1341.5,1296.8 1344.6,1285.1 1346.1,1275.1 1346.6,1263.4 1345.2,1248.4 1341.5,1233.4 1336.8,1221.7 1330.3,1210.1 1322.4,1199.5 1312.4,1189.3 1304,1182.7 1289,1173.9 1277.4,1169.2 1265.7,1166.1 1255.7,1164.6 1245.7,1164.1 1245.7,1365.2Z" fill="#2fb47c" fill-rule="evenodd"/>
<path d="M1245.7,1356.8 1245.7,1358.2 1252.4,1358 1264,1356.4 1272.4,1354.3 1280.7,1351.4 1289,1347.5 1297.4,1342.5 1307.4,1334.8 1318.1,1323.5 1323,1316.8 1328,1308.5 1333.2,1296.8 1335.3,1290.1 1338,1276.8 1338.6,1270.1 1338.4,1256.8 1336.6,1245.1 1333.2,1233.4 1329.7,1225.1 1325.2,1216.7 1321.9,1211.7 1315.3,1203.4 1306.9,1195 1297.4,1187.7 1285.7,1181.1 1280.7,1178.8 1270.7,1175.4 1264,1173.8 1255.7,1172.5 1245.7,1172 1245.7,1356.8Z" fill="#5ec962" fill-rule="evenodd"/>
<path d="M1245.7,1351.8 1245.7,1352.3 1259,1351.3 1267.4,1349.6 1274,1347.6 1285.7,1342.6 1297.5,1335.2 1305.7,1328.3 1314.6,1318.5 1318.2,1313.5 1326.2,1298.5 1330.1,1286.8 1332.4,1273.4 1332.8,1263.4 1331.8,1251.8 1330.1,1243.4 1326.9,1233.4 1321.3,1221.7 1311.9,1208.4 1305.5,1201.7 1297.4,1194.9 1290,1190 1282.4,1186 1267.4,1180.6 1255.7,1178.5 1245.7,1177.9 1245.7,1351.8Z" fill="#90d743" fill-rule="evenodd"/>
<path d="M1245.7,1346.8 1245.7,1347.2 1259,1346.1 1267.4,1344.3 1280.7,1339.3 1289,1334.8 1300.7,1326 1308,1318.5 1316.3,1306.8 1322.6,1293.5 1324.8,1286.8 1326.9,1276.8 1327.7,1263.4 1326.9,1253.4 1323.8,1240.1 1319.9,1230.1 1315.3,1221.7 1307.4,1211 1300.7,1204.2 1292.4,1197.6 1284,1192.5 1275.7,1188.7 1267.4,1185.9 1254,1183.5 1245.7,1183 1245.7,1346.8Z" fill="#c8e020" fill-rule="evenodd"/>
<path d="M1245.7,1341.8 1245.7,1342.6 1257.4,1341.8 1270.7,1338.5 1279,1335.1 1285.7,1331.5 1292.6,1326.8 1300.7,1319.7 1307.5,1311.8 1312.4,1304.5 1314,1301.7 1315.7,1298.4 1319.5,1288.5 1321.3,1281.8 1322.7,1273.4 1323.1,1263.4 1322.3,1253.4 1319,1240 1315.6,1231.7 1310.7,1223 1305.7,1216.1 1296.6,1206.7 1292.4,1203.2 1282.2,1196.7 1270.7,1191.7 1255.7,1188.2 1245.7,1187.6 1245.7,1341.8Z" fill="#fde725" fill-rule="evenodd"/>
<path d="M1398.3,1393.5 1399,1391.2 1399.8,1390.2 1400.4,1388.5 1400.5,1386.9 1400.7,1386.3 1404,1383.1 1405.7,1381.9 1407.3,1381.8 1409,1381.1 1412.3,1380.8 1413,1380.2 1413.6,1378.5 1415.7,1376.2 1417.1,1375.2 1417.3,1374.9 1419,1374.9 1419.5,1373.5 1422.3,1371.8 1424,1370.2 1424.7,1371.9 1425.7,1372.7 1427.3,1372.1 1427.5,1371.9 1427.5,1370.2 1429,1368.1 1430,1368.5 1430.7,1369.3 1430.9,1368.5 1430.7,1366.8 1432.2,1365.2 1430.7,1364.4 1430.2,1363.5 1430.7,1363 1432.3,1362.4 1434,1362.5 1434.6,1361.8 1434,1360.2 1434.7,1358.5 1436,1356.8 1435.7,1356.4 1434,1355.8 1433.6,1355.2 1434,1354.3 1435.7,1353.5 1437.3,1354.5 1438.5,1353.5 1439.3,1351.8 1439,1350.2 1437.3,1349.2 1436.9,1348.5 1436.8,1346.8 1437.3,1345.4 1439,1344.7 1441.7,1341.8 1442.5,1340.2 1443.1,1338.5 1443.1,1336.8 1444,1335.2 1444.6,1333.5 1445.7,1331.9 1447.3,1332.5 1447.8,1331.8 1447.9,1330.2 1447.3,1329.5 1446.4,1330.2 1445.7,1331.6 1445,1330.2 1445.3,1328.5 1445.3,1326.8 1444.8,1325.1 1445.7,1324 1447.3,1324.2 1447.9,1323.5 1447.1,1320.1 1449,1319.5 1450.7,1319.4 1451,1318.5 1449.3,1316.8 1450.7,1312.5 1451.5,1311.8 1450.7,1311.6 1449.5,1310.1 1450.3,1308.5 1450.6,1306.8 1450.4,1305.1 1450.7,1304.7 1451.5,1305.1 1451.5,1306.8 1452.3,1306.9 1452.8,1306.8 1454,1305.6 1454,1304.6 1453.7,1303.5 1452.6,1301.8 1452.3,1301.7 1451.7,1300.1 1452.7,1296.8 1452.5,1295.1 1450.7,1294.6 1449.6,1293.5 1450.7,1292.9 1451.3,1291.8 1450.7,1290.6 1449,1289.2 1448.5,1288.5 1447.3,1287.5 1445.6,1286.8 1445.7,1285.1 1444,1284.8 1443.6,1283.4 1444,1282.6 1445.7,1282.1 1446,1281.8 1445.9,1280.1 1445.7,1279.8 1444,1279.3 1443.5,1278.4 1443.1,1276.8 1443.5,1275.1 1445.2,1273.4 1444,1271.2 1442.3,1270.4 1442.3,1268.4 1442.7,1266.8 1443.4,1265.1 1442.3,1264.7 1440.3,1263.4 1440.7,1261.8 1440.8,1260.1 1441.4,1258.4 1440.7,1258 1439.5,1258.4 1440.4,1260.1 1439,1260.9 1438,1260.1 1438.6,1258.4 1439,1255 1437.9,1253.4 1436,1250.1 1436.3,1248.4 1435.5,1245.1 1435.7,1244.7 1438.2,1243.4 1437.3,1242.1 1437.3,1241.4 1437.9,1240.1 1438.8,1236.7 1437.3,1235.6 1436.3,1235.1 1435.7,1233.1 1434,1232 1432.3,1231.6 1434,1231.2 1434.6,1230.1 1435,1226.7 1434.3,1225.1 1433.9,1223.4 1434.8,1221.7 1435.4,1220.1 1433.9,1218.4 1435.7,1216.7 1434,1215.8 1432.3,1215.6 1430.7,1215.2 1429,1215.5 1427.3,1214.1 1426.9,1213.4 1426.4,1211.7 1426.7,1210.1 1425.6,1208.4 1423.9,1205.1 1424,1203.4 1423.4,1201.7 1422.5,1200 1422.3,1198.3 1424.2,1196.7 1420.7,1195.7 1419.9,1195 1419.9,1193.4 1419,1192.2 1418.2,1190 1419.9,1186.7 1419.2,1185 1418.8,1185 1417.4,1186.7 1417.6,1188.4 1417.3,1188.4 1417.3,1186.7 1414,1183.4 1414.7,1181.7 1414,1178.3 1412.3,1176 1410.7,1175.5 1408.1,1173.4 1407.4,1171.7 1407.5,1170 1406.1,1168.4 1405.5,1166.7 1405.3,1165 1407.3,1163.9 1409.1,1163.4 1409,1163 1407.3,1162.2 1405.7,1162.3 1405.2,1161.7 1405.7,1161 1407.3,1161.2 1409,1160.3 1409,1159.9 1407.3,1159.1 1406.4,1158.3 1407.3,1157.2 1408.2,1156.7 1407.3,1156 1406.7,1155 1404,1153.7 1402.3,1153.8 1400.5,1153.3 1399,1151.5 1398.5,1150 1397.3,1149 1396,1148.3 1395.7,1147.8 1395.4,1146.7 1395.3,1145 1394.8,1143.3 1394.7,1141.7 1395.7,1140 1396.1,1138.3 1394.4,1136.7M1432.4,1365.2 1434,1366.5 1434.7,1365.2 1434,1364.1 1432.4,1365.2M1447.3,1313.5 1447,1311.8 1447.3,1311.3 1447.7,1311.8 1447.5,1313.5 1447.3,1313.5M1453.7,1288.5 1454,1288.9 1454.3,1288.5 1454,1288.2 1453.7,1288.5M1440.3,1251.8 1440.7,1252 1441.2,1251.8 1440.7,1251.4 1440.3,1251.8M1432.3,1229.6 1431.2,1228.4 1432,1226.7 1432.3,1226.5 1432.8,1226.7 1433.6,1228.4 1432.3,1229.6M1320.3,1393.5 1324,1391.3 1330.7,1386.6 1335.7,1382.7 1337.8,1380.2 1339,1378.5 1343.3,1373.5 1348,1366.8 1349,1365 1350.2,1363.5 1352.3,1359.7 1357.3,1353.4 1360.3,1350.2 1361.5,1348.5 1362.3,1346.8 1365.2,1343.5 1366.1,1341.8 1367.3,1339.9 1368.5,1338.5 1369,1336.8 1370.4,1335.2 1372.3,1331.5 1373.4,1330.2 1374,1328.3 1375.1,1326.8 1375.7,1324.9 1376.6,1323.5 1377.1,1321.8 1377.4,1320.1 1378.5,1318.5 1379,1315.8 1380.2,1313.5 1380.7,1310.1 1381.6,1308.5 1382.3,1303.9 1383.3,1301.8 1383.8,1298.5 1384,1295 1384.8,1290.1 1385,1280.1 1383.9,1270.1 1383.3,1255.1 1383,1253.4 1382.3,1250.9 1382.2,1246.8 1381.8,1243.4 1381.4,1241.7 1380.7,1240.1 1380.4,1236.7 1380.1,1235.1 1379,1232.4 1378.4,1228.4 1377.3,1226.7 1376.9,1221.7 1376.5,1220.1 1375.7,1218.4 1375.3,1215.1 1374.8,1213.4 1374,1211.7 1373.4,1208.4 1372.3,1206.7 1372.1,1205.1 1371.6,1203.4 1370.6,1201.7 1370.3,1200 1368.8,1196.7 1368.3,1195 1367.3,1193.6 1366.8,1191.7 1365.6,1190 1365.1,1188.4 1363.9,1186.7 1363.2,1185 1362.1,1183.4 1360.7,1181 1360.3,1180 1358.9,1178.4 1358.1,1176.7 1357.3,1175.7 1357,1175 1355.6,1173.4 1354.6,1171.7 1354,1171 1353.5,1170 1349,1164.7 1343.7,1158.3 1332.4,1147.3 1331.5,1146.7 1330.7,1145.9 1329,1145 1325.7,1142.3 1324,1141.4 1320.7,1139 1319,1138.3 1317.4,1137.1 1316.5,1136.7M1245.7,1390.2 1259,1389.7 1264,1389 1266.2,1388.5 1270.7,1387.9 1279,1385.9 1280.7,1385.2 1282.4,1384.9 1286.1,1383.5 1289,1382.6 1290.7,1381.8 1292.4,1381.3 1297.4,1379.2 1299,1378.3 1307.4,1374.1 1317.4,1367.8 1320.7,1365.2 1322.4,1364.1 1332.5,1355.2 1343.2,1343.5 1348.2,1336.8 1354.5,1326.8 1359.6,1316.8 1363.6,1306.8 1366.7,1296.8 1369.1,1285.1 1370.6,1270.1 1370.7,1263.4 1368.8,1243.4 1367,1235.1 1365.7,1230.1 1360.7,1216.1 1356.3,1206.7 1352.5,1200 1352.3,1199.9 1347,1191.7 1337.3,1180 1332.4,1174.9 1322.4,1166.2 1317.4,1162.5 1312.4,1159.1 1300.7,1152.6 1298.6,1151.7 1297.4,1151 1292.4,1148.9 1287.4,1147 1282.4,1145.4 1277.4,1143.9 1274,1143.2 1272.4,1142.7 1259,1140.5 1245.7,1140M1245.7,1375.7 1252.4,1375.5 1262.4,1374.5 1272.4,1372.5 1282.4,1369.5 1287.4,1367.6 1289,1366.8 1290.7,1366.2 1297.4,1362.9 1299.1,1361.8 1300.7,1361.1 1305.7,1358 1312.4,1353.3 1314.1,1351.8 1320.7,1346.4 1329.9,1336.8 1336.3,1328.5 1339.6,1323.5 1343.4,1316.8 1345.1,1313.5 1348.1,1306.8 1350,1301.8 1352.1,1295.1 1352.4,1293.5 1353.4,1290.1 1355,1281.8 1356.2,1268.4 1356,1258.4 1355,1248.4 1353,1238.4 1352.3,1236.5 1352.1,1235.1 1350,1228.4 1346.7,1220.1 1343.4,1213.4 1339.6,1206.7 1337.3,1203.4 1335.1,1200 1326.9,1190 1317.4,1180.9 1309,1174.4 1307.3,1173.4 1304,1171.1 1300.7,1169.1 1299,1168.3 1297.4,1167.3 1290.7,1164 1288.8,1163.4 1287.4,1162.6 1282.4,1160.7 1275.7,1158.6 1274,1158.3 1272.4,1157.7 1267.1,1156.7 1262.4,1155.7 1249,1154.5 1245.7,1154.5M1245.7,1366.1 1252.4,1365.9 1265.7,1364.1 1277.4,1361 1282.4,1359.2 1284,1358.4 1289,1356.3 1295.7,1352.8 1305.7,1346.3 1313.2,1340.2 1322.8,1330.2 1328,1323.5 1334.2,1313.5 1339.7,1301.8 1343,1291.8 1345.2,1281.8 1346.1,1275.1 1346.5,1270.1 1346.4,1258.4 1344.6,1245.1 1341.5,1233.4 1339.7,1228.4 1333.3,1215.1 1330.3,1210.1 1322.4,1199.5 1317.4,1194 1310.7,1187.9 1304,1182.7 1292.4,1175.6 1285.7,1172.4 1277.4,1169.2 1265.7,1166.1 1255.7,1164.6 1250.7,1164.2 1245.7,1164.1M1245.7,1358.2 1252.4,1358 1257.4,1357.5 1267.4,1355.6 1269,1355.1 1272.4,1354.3 1277.4,1352.6 1279.2,1351.8 1280.7,1351.4 1289,1347.5 1297.4,1342.5 1307.4,1334.8 1315.7,1326.4 1322.4,1317.8 1324,1315.1 1325.2,1313.5 1329.7,1305.1 1333.2,1296.8 1335.3,1290.1 1336.6,1285.1 1338.4,1273.4 1338.7,1263.4 1338,1253.4 1336.6,1245.1 1335.6,1241.7 1334.8,1238.4 1333.2,1233.4 1329.7,1225.1 1325.2,1216.7 1324,1215.1 1321.9,1211.7 1315.3,1203.4 1306.9,1195 1302.4,1191.3 1297.4,1187.7 1289,1182.7 1280.7,1178.8 1279,1178.3 1270.7,1175.4 1264,1173.8 1255.7,1172.5 1250.7,1172.1 1245.7,1172M1245.7,1352.3 1259,1351.3 1267.4,1349.6 1274,1347.6 1282.4,1344.2 1285.7,1342.6 1292.7,1338.5 1297.5,1335.2 1303.7,1330.2 1307.4,1326.7 1314.6,1318.5 1318.2,1313.5 1322.4,1306.5 1326.9,1296.8 1330.1,1286.8 1331.8,1278.4 1332.7,1270.1 1332.7,1260.1 1331.2,1248.4 1328.1,1236.7 1323.9,1226.7 1320.3,1220.1 1317.4,1215.5 1311.9,1208.4 1305.5,1201.7 1297.4,1194.9 1290,1190 1287.4,1188.5 1282.4,1186 1274,1182.6 1267.4,1180.6 1259,1178.9 1247.4,1177.9 1245.7,1177.9M1245.7,1347.2 1259,1346.1 1267.4,1344.3 1278.8,1340.2 1284,1337.7 1292.4,1332.6 1300.7,1326 1308,1318.5 1312.4,1312.9 1316.3,1306.8 1318.2,1303.5 1322.6,1293.5 1324.8,1286.8 1326.9,1276.8 1327.7,1266.8 1327.4,1258.2 1326,1248.4 1323.8,1240.1 1319.9,1230.1 1315.3,1221.7 1307.4,1211 1300.7,1204.2 1292.4,1197.6 1287.4,1194.4 1280.7,1190.9 1275.7,1188.7 1267.4,1185.9 1259,1184.1 1249,1183.1 1245.7,1183M1245.7,1342.6 1252.4,1342.3 1257.4,1341.8 1265.7,1340 1270.7,1338.5 1275.7,1336.6 1282.4,1333.4 1287.8,1330.2 1292.6,1326.8 1299,1321.3 1302.4,1317.9 1307.5,1311.8 1311,1306.8 1314,1301.7 1315.7,1298.4 1317.4,1294.5 1320.7,1284.5 1322.4,1276.3 1323.1,1266.8 1322.7,1256.8 1322,1251.8 1319,1240 1315.6,1231.7 1310.7,1223 1307.4,1218.2 1300.7,1210.5 1292.4,1203.2 1282.2,1196.7 1278.9,1195 1270.7,1191.7 1265.1,1190 1255.7,1188.2 1245.7,1187.6" fill="none" stroke="#0b1526" stroke-width="0.85" stroke-opacity="0.85"/>

<ellipse cx="1245.70" cy="1265.10" rx="147.06" ry="73.60" fill="#fff" stroke="#141a08" stroke-width="1.5"/>
</g>
<path d="M1579.3,1147.6H1249.4M1579.3,1382.0H1249.4" fill="none" stroke="#e8203a" stroke-width="2.9" stroke-dasharray="13.6 7" stroke-opacity="0.74"/>
<path d="M1252.1,1143.8V1385.6" fill="none" stroke="#e8203a" stroke-width="4.6" stroke-dasharray="13.6 7" stroke-dashoffset="4.5" stroke-opacity="0.6"/>
</g>
<path d="M1249.4,1143.8V1385.6" fill="none" stroke="#8a93b8" stroke-width="0.8" opacity="0.7"/>
<g font-size="9.5" fill="#505050"><text x="1287.4" y="1401.0" text-anchor="middle">1</text><text x="1329.0" y="1401.0" text-anchor="middle">2</text><text x="1370.7" y="1401.0" text-anchor="middle">3</text><text x="1412.3" y="1401.0" text-anchor="middle">4</text><text x="1454.0" y="1401.0" text-anchor="middle">5</text><text x="1495.7" y="1401.0" text-anchor="middle">6</text><text x="1537.3" y="1401.0" text-anchor="middle">7</text><text x="1579.0" y="1401.0" text-anchor="middle">8</text><text x="1244.4" y="1372.9" text-anchor="end">-2.5</text><text x="1244.4" y="1352.0" text-anchor="end">-2</text><text x="1244.4" y="1331.2" text-anchor="end">-1.5</text><text x="1244.4" y="1310.3" text-anchor="end">-1</text><text x="1244.4" y="1289.5" text-anchor="end">-0.5</text><text x="1244.4" y="1268.6" text-anchor="end">0</text><text x="1244.4" y="1247.8" text-anchor="end">0.5</text><text x="1244.4" y="1226.9" text-anchor="end">1</text><text x="1244.4" y="1206.1" text-anchor="end">1.5</text><text x="1244.4" y="1185.2" text-anchor="end">2</text><text x="1244.4" y="1164.4" text-anchor="end">2.5</text></g>
<text x="1417.3" y="1413.6" font-size="10.1" text-anchor="middle" fill="#505050">x (cm)</text>
<text transform="translate(1217.4,1264.7) rotate(-90)" font-size="10.1" text-anchor="middle" fill="#505050">y (cm)</text>
<text x="1417.0" y="1139.5" font-size="10.25" font-weight="bold" text-anchor="middle" fill="#111">Film Unshielded Direction</text>
<text x="824" y="1654.6" font-family="'Liberation Sans','DejaVu Sans',sans-serif" font-size="40" text-anchor="middle" fill="#000">(h)</text>
</svg></body></html>
